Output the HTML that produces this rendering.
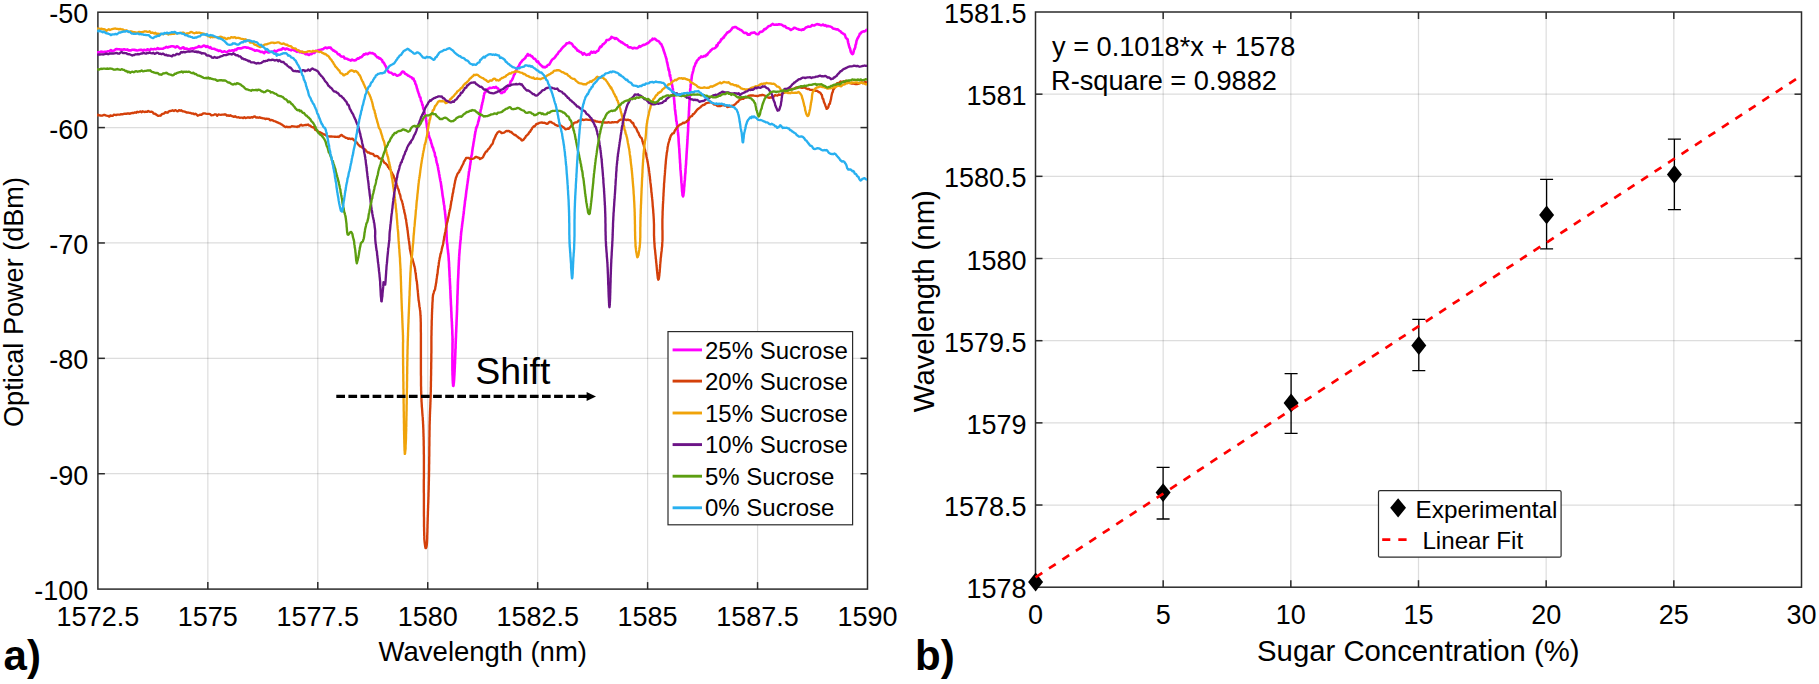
<!DOCTYPE html>
<html><head><meta charset="utf-8"><title>Figure</title>
<style>html,body{margin:0;padding:0;background:#fff}svg{display:block}</style></head>
<body>
<svg width="1819" height="684" viewBox="0 0 1819 684" font-family='"Liberation Sans", Arial, Helvetica, sans-serif' fill="#000">
<rect width="1819" height="684" fill="#fff"/>
<g id="pa">
<g stroke="#262626" stroke-opacity="0.155" stroke-width="1.2">
<line x1="207.84" y1="12.2" x2="207.84" y2="589.1"/>
<line x1="317.79" y1="12.2" x2="317.79" y2="589.1"/>
<line x1="427.73" y1="12.2" x2="427.73" y2="589.1"/>
<line x1="537.67" y1="12.2" x2="537.67" y2="589.1"/>
<line x1="647.61" y1="12.2" x2="647.61" y2="589.1"/>
<line x1="757.56" y1="12.2" x2="757.56" y2="589.1"/>
<line x1="97.9" y1="127.58" x2="867.5" y2="127.58"/>
<line x1="97.9" y1="242.96" x2="867.5" y2="242.96"/>
<line x1="97.9" y1="358.34" x2="867.5" y2="358.34"/>
<line x1="97.9" y1="473.72" x2="867.5" y2="473.72"/>
</g>
<g stroke="#2b2b2b" stroke-width="1.5" fill="none">
<rect x="97.9" y="12.2" width="769.6" height="576.9"/>
<line x1="207.84" y1="589.1" x2="207.84" y2="582.1"/><line x1="207.84" y1="12.2" x2="207.84" y2="19.2"/>
<line x1="317.79" y1="589.1" x2="317.79" y2="582.1"/><line x1="317.79" y1="12.2" x2="317.79" y2="19.2"/>
<line x1="427.73" y1="589.1" x2="427.73" y2="582.1"/><line x1="427.73" y1="12.2" x2="427.73" y2="19.2"/>
<line x1="537.67" y1="589.1" x2="537.67" y2="582.1"/><line x1="537.67" y1="12.2" x2="537.67" y2="19.2"/>
<line x1="647.61" y1="589.1" x2="647.61" y2="582.1"/><line x1="647.61" y1="12.2" x2="647.61" y2="19.2"/>
<line x1="757.56" y1="589.1" x2="757.56" y2="582.1"/><line x1="757.56" y1="12.2" x2="757.56" y2="19.2"/>
<line x1="97.9" y1="127.58" x2="104.9" y2="127.58"/><line x1="867.5" y1="127.58" x2="860.5" y2="127.58"/>
<line x1="97.9" y1="242.96" x2="104.9" y2="242.96"/><line x1="867.5" y1="242.96" x2="860.5" y2="242.96"/>
<line x1="97.9" y1="358.34" x2="104.9" y2="358.34"/><line x1="867.5" y1="358.34" x2="860.5" y2="358.34"/>
<line x1="97.9" y1="473.72" x2="104.9" y2="473.72"/><line x1="867.5" y1="473.72" x2="860.5" y2="473.72"/>
</g>
<clipPath id="ca"><rect x="97.10000000000001" y="12.2" width="769.9" height="576.9"/></clipPath>
<g clip-path="url(#ca)" fill="none" stroke-linejoin="round" stroke-linecap="round">
<path d="M97.4,52.3 98.1,52.6 98.9,52.2 99.9,52.0 100.9,51.6 102.1,51.7 103.4,52.2 104.7,51.8 106.1,51.9 107.5,51.4 108.6,51.3 109.7,51.0 110.9,50.0 112.0,50.9 113.1,50.7 114.3,50.5 115.5,49.3 116.7,49.0 117.9,49.2 119.1,49.3 120.3,49.6 121.6,49.5 122.8,49.7 124.0,49.2 125.2,49.6 126.3,49.7 127.5,49.4 128.6,50.5 129.7,50.2 130.9,50.5 132.0,49.8 133.2,49.7 134.4,49.9 135.6,50.1 136.9,50.5 138.1,50.3 139.3,50.0 140.5,49.7 141.7,49.9 142.9,50.6 144.0,49.8 145.2,50.1 146.3,50.2 147.4,49.3 148.5,49.8 149.6,50.4 151.0,48.9 152.3,49.3 153.4,49.4 154.5,48.9 155.6,49.3 156.6,49.0 157.7,48.1 158.9,48.9 160.2,48.8 161.4,48.7 162.7,48.8 163.9,48.1 165.2,47.7 166.4,46.9 167.7,47.5 168.9,46.9 170.1,46.7 171.3,46.3 172.5,46.3 174.0,46.6 175.4,47.5 176.6,46.3 177.8,46.6 178.9,47.6 180.0,48.5 181.2,48.4 182.5,47.5 183.5,47.3 184.4,48.7 185.4,48.6 186.6,48.5 188.2,49.3 189.2,49.4 190.3,48.8 191.4,48.5 192.6,48.4 193.8,48.6 195.0,47.9 196.3,47.5 197.5,47.3 198.8,46.1 200.0,47.0 201.1,46.9 202.3,46.6 203.7,45.5 205.0,46.0 206.1,46.9 207.2,46.1 208.3,46.9 209.4,47.9 210.5,47.2 211.6,48.7 212.8,48.8 214.0,48.8 215.2,49.3 216.4,49.9 217.5,50.1 218.6,51.0 219.8,50.6 220.9,50.9 222.1,51.9 223.3,51.7 224.6,51.3 225.8,52.0 226.9,52.2 228.0,51.3 229.2,50.6 230.3,50.8 231.4,50.6 232.6,50.3 233.9,50.8 235.1,49.5 236.3,50.0 237.4,48.6 238.6,48.2 239.7,48.4 240.8,48.4 242.0,48.0 243.2,47.5 244.4,47.3 245.6,47.3 246.8,47.7 248.0,47.6 249.1,48.1 250.2,48.6 251.3,48.7 252.5,49.5 253.7,49.8 254.9,50.8 256.1,50.4 257.3,50.4 258.5,50.7 259.6,51.2 260.7,52.0 261.9,51.8 263.0,52.3 264.2,53.2 265.4,51.4 266.7,51.8 267.9,52.4 269.0,52.4 270.1,52.1 271.3,51.6 272.4,51.7 273.5,51.4 274.7,50.7 276.0,51.8 277.2,50.8 278.4,50.0 279.5,49.9 280.7,49.6 281.8,49.4 282.9,48.0 284.1,48.7 285.3,49.4 286.5,48.5 287.7,48.9 288.9,49.6 290.1,49.8 291.2,50.4 292.3,49.3 293.4,50.0 294.6,50.4 295.8,51.2 297.0,51.8 298.3,50.4 299.6,52.2 300.9,51.7 302.2,52.9 303.4,52.4 304.6,53.4 305.7,54.3 306.7,54.0 307.5,54.3 309.0,55.0 310.0,54.3 310.7,53.9 311.5,54.1 312.4,53.5 313.3,52.3 314.4,53.0 315.6,50.9 317.0,51.1 318.1,50.3 319.3,50.0 320.5,49.9 321.8,49.4 323.2,49.2 324.5,47.9 325.8,47.5 327.0,48.3 328.2,47.6 329.3,47.5 330.6,47.6 331.7,49.2 332.5,49.7 333.3,50.7 334.2,50.5 335.1,51.6 336.3,51.9 337.3,53.3 338.3,54.5 339.3,54.2 340.4,55.9 341.5,56.5 342.5,56.7 343.6,56.5 344.7,58.5 345.8,58.5 346.8,58.7 348.3,59.5 349.6,59.9 350.9,60.6 352.1,59.5 353.2,60.3 354.4,60.4 355.6,60.2 356.7,59.2 357.8,58.4 358.7,58.7 359.6,57.8 360.5,57.2 361.5,57.2 362.6,55.9 363.7,54.4 364.8,54.6 366.0,53.6 367.1,54.2 368.3,53.7 369.4,52.9 370.4,52.9 371.4,53.2 372.7,53.1 373.7,54.0 374.6,54.1 375.5,55.4 376.7,56.7 377.5,57.5 378.4,57.3 379.3,58.6 380.2,58.3 381.1,59.4 382.0,60.0 382.8,62.3 383.7,62.5 384.4,63.9 384.9,64.9 385.5,66.0 386.0,66.8 386.4,68.2 387.0,69.9 387.5,70.2 388.2,71.2 388.9,72.2 389.9,72.5 391.0,72.7 392.2,73.5 393.3,74.7 394.5,74.0 395.6,74.6 396.7,75.6 397.7,75.7 399.1,75.0 400.1,74.6 401.0,73.4 402.0,72.0 403.0,71.5 404.1,72.2 405.1,73.7 406.1,74.1 407.2,74.8 408.2,75.7 409.4,76.1 410.5,77.1 411.5,77.3 412.5,78.6 413.5,78.6 414.0,80.5 414.5,81.0 414.9,81.3 415.3,83.4 415.6,84.2 416.0,84.5 416.5,86.3 417.0,88.5 417.4,89.2 417.7,90.7 418.1,91.8 418.5,92.9 418.9,93.9 419.3,95.4 419.6,96.4 420.0,97.4 420.4,97.4 420.8,99.8 421.2,101.3 421.6,101.8 421.9,102.8 422.3,105.1 422.7,104.9 423.0,106.9 423.4,109.1 423.7,109.0 424.0,110.6 424.3,112.4 424.5,112.7 424.8,114.0 425.1,115.3 425.3,115.6 425.6,117.0 425.8,118.4 426.0,120.0 426.2,120.9 426.4,121.9 426.5,122.7 426.7,124.0 426.8,125.7 426.9,126.5 427.1,127.2 427.3,128.3 427.5,131.1 427.8,131.8 428.1,132.7 428.4,132.2 428.7,134.5 429.0,135.7 429.3,137.3 429.6,137.9 430.0,138.7 430.3,140.1 430.7,140.2 431.1,142.6 431.4,143.6 431.8,144.2 432.1,146.1 432.5,147.5 432.8,147.2 433.2,148.3 433.5,149.9 433.9,151.0 434.3,152.0 434.7,152.9 435.0,155.7 435.4,156.9 435.7,156.9 436.0,157.8 436.2,160.2 436.5,161.2 436.7,162.6 437.0,163.3 437.2,163.6 437.4,165.2 437.7,165.3 437.9,166.9 438.2,168.5 438.4,170.0 438.6,170.7 438.9,172.2 439.1,173.7 439.4,175.0 439.6,176.4 439.8,177.5 440.0,178.5 440.3,180.2 440.5,181.1 440.7,181.9 440.9,183.1 441.1,184.6 441.2,185.8 441.4,187.1 441.6,188.2 441.8,189.4 442.0,190.5 442.1,191.1 442.3,193.0 442.5,194.6 442.6,195.6 442.8,196.4 443.0,197.9 443.2,198.5 443.3,199.3 443.5,201.4 443.7,202.3 443.9,204.2 444.0,204.7 444.2,205.1 444.4,206.9 444.5,209.3 444.7,209.8 444.8,210.3 445.0,211.7 445.1,213.4 445.2,214.6 445.4,215.6 445.5,217.3 445.6,218.1 445.7,218.9 445.9,220.3 446.0,222.0 446.1,223.1 446.2,224.4 446.2,224.7 446.3,226.1 446.4,227.8 446.4,228.5 446.4,230.2 446.5,231.2 446.5,232.4 446.5,233.1 446.6,235.3 446.6,236.0 446.6,236.5 446.7,237.7 446.8,240.0 446.8,240.0 446.9,241.7 447.0,243.0 447.2,243.7 447.3,244.1 447.4,245.7 447.5,246.9 447.6,248.3 447.7,249.2 447.9,249.9 448.0,251.3 448.1,252.4 448.2,253.5 448.4,254.7 448.5,255.9 448.6,257.8 448.7,258.2 448.7,259.4 448.8,260.8 448.9,261.3 449.0,262.8 449.0,263.3 449.1,264.9 449.1,266.7 449.2,268.0 449.3,268.9 449.3,270.0 449.4,270.7 449.5,273.3 449.5,274.1 449.6,275.5 449.6,275.9 449.7,277.4 449.8,277.9 449.8,280.2 449.9,281.7 449.9,281.8 450.0,283.7 450.1,285.4 450.1,285.6 450.2,286.7 450.2,288.2 450.3,289.7 450.4,290.5 450.4,292.3 450.5,293.7 450.5,295.0 450.6,296.2 450.6,297.7 450.7,298.8 450.7,298.8 450.8,300.2 450.8,301.1 450.9,302.2 450.9,303.9 451.0,305.2 451.1,306.6 451.1,307.0 451.2,308.2 451.2,310.1 451.3,311.4 451.4,312.6 451.4,314.0 451.5,315.0 451.5,316.9 451.6,318.1 451.7,319.2 451.7,320.2 451.8,321.6 451.9,321.7 451.9,323.6 452.0,325.3 452.0,325.9 452.1,327.8 452.2,329.0 452.2,329.5 452.3,331.0 452.3,332.2 452.3,333.6 452.4,334.8 452.4,335.5 452.5,336.1 452.5,338.2 452.5,339.7 452.6,341.4 452.6,342.3 452.5,342.8 452.5,343.4 452.5,344.7 452.5,345.6 452.5,346.6 452.5,348.3 452.5,349.8 452.5,351.1 452.5,352.4 452.4,353.1 452.4,355.4 452.4,355.6 452.4,357.3 452.4,358.1 452.4,359.7 452.4,359.4 452.4,361.2 452.4,362.9 452.4,364.4 452.4,366.4 452.4,366.8 452.4,368.3 452.4,369.3 452.4,370.4 452.5,371.4 452.5,372.7 452.5,374.6 452.6,375.7 452.7,378.3 452.7,379.0 452.8,381.0 452.9,383.3 453.0,383.6 453.1,384.6 453.1,385.8 453.2,385.9 453.3,385.6 453.4,385.9 453.5,385.6 453.6,384.9 453.7,383.2 453.8,383.1 453.9,381.8 454.1,379.6 454.2,377.9 454.3,375.9 454.4,375.0 454.5,372.5 454.6,371.3 454.6,369.8 454.7,368.5 454.7,367.9 454.8,367.1 454.8,365.4 454.9,363.8 455.0,363.2 455.0,361.7 455.0,360.6 455.1,359.9 455.1,358.6 455.2,356.6 455.2,356.6 455.3,354.6 455.3,353.6 455.4,351.9 455.4,351.0 455.4,349.2 455.5,349.1 455.6,347.9 455.6,345.6 455.6,344.3 455.7,343.2 455.7,343.5 455.7,342.0 455.8,341.0 455.8,339.6 455.9,338.2 456.0,336.0 456.0,335.4 456.0,333.8 456.1,333.3 456.1,332.5 456.2,331.5 456.2,330.1 456.3,328.6 456.3,327.8 456.4,326.4 456.4,326.1 456.5,324.6 456.5,323.0 456.6,321.5 456.6,320.1 456.7,318.7 456.7,317.7 456.8,316.7 456.8,315.6 456.9,314.3 456.9,313.8 457.0,311.3 457.0,310.2 457.1,310.2 457.1,307.0 457.1,306.1 457.2,305.2 457.2,304.1 457.3,303.0 457.3,301.6 457.3,300.6 457.4,299.4 457.4,298.5 457.4,296.2 457.5,295.4 457.5,294.6 457.6,293.1 457.6,291.9 457.6,291.4 457.7,289.8 457.7,289.1 457.8,288.0 457.8,286.6 457.8,285.4 457.9,283.9 457.9,281.9 458.0,281.2 458.0,280.2 458.1,278.5 458.2,277.4 458.2,276.6 458.3,274.6 458.3,274.0 458.4,273.4 458.4,271.2 458.5,270.2 458.5,268.9 458.6,268.4 458.6,266.8 458.7,265.8 458.8,264.0 458.8,263.0 458.9,261.9 458.9,260.0 459.0,260.3 459.1,259.1 459.1,256.8 459.2,256.2 459.3,254.5 459.4,253.4 459.5,252.1 459.6,250.0 459.7,249.3 459.8,249.0 459.9,247.1 460.0,245.7 460.1,244.5 460.2,243.5 460.2,243.1 460.3,242.8 460.4,241.4 460.5,240.2 460.7,239.6 460.8,237.4 460.8,236.2 460.9,235.8 461.0,235.1 461.1,233.5 461.2,232.4 461.3,231.8 461.5,230.3 461.8,227.7 461.9,227.2 462.0,226.1 462.1,225.5 462.2,224.3 462.4,223.3 462.5,222.0 462.6,221.5 462.8,220.7 462.9,218.7 463.1,218.0 463.2,216.1 463.4,215.2 463.5,214.3 463.7,213.5 463.8,211.4 464.0,210.2 464.1,209.0 464.3,207.0 464.5,206.3 464.6,204.8 464.8,204.0 464.9,202.2 465.1,200.4 465.3,200.0 465.4,199.0 465.6,197.3 465.8,196.6 465.9,195.0 466.1,193.5 466.2,192.7 466.4,190.7 466.6,189.8 466.7,188.9 466.9,188.2 467.0,186.6 467.2,185.6 467.3,184.1 467.5,183.3 467.6,182.8 467.8,180.7 467.9,180.8 468.1,178.5 468.3,177.4 468.4,176.3 468.6,175.5 468.8,173.4 469.0,171.5 469.2,171.3 469.4,170.2 469.5,168.9 469.7,168.6 469.9,166.4 470.1,165.1 470.3,164.3 470.4,162.9 470.6,162.3 470.8,160.0 471.0,159.0 471.2,156.5 471.3,157.1 471.5,155.7 471.7,155.1 471.9,154.5 472.1,152.4 472.3,151.0 472.5,149.5 472.7,148.0 472.9,146.8 473.1,146.1 473.3,144.6 473.5,143.3 473.7,141.9 473.9,141.2 474.1,139.8 474.3,138.3 474.5,137.5 474.7,136.0 474.9,134.4 475.0,134.5 475.2,133.1 475.4,131.5 475.6,131.3 475.8,130.2 476.2,127.5 476.6,127.6 476.9,126.4 477.2,126.0 477.5,124.9 477.9,123.6 478.4,121.1 478.6,121.2 478.9,119.9 479.1,118.6 479.3,117.8 479.6,116.5 479.8,115.5 480.1,113.8 480.3,112.6 480.6,110.4 480.8,109.7 481.1,109.0 481.3,108.2 481.6,106.2 481.8,105.0 482.1,104.6 482.3,102.7 482.6,102.0 482.8,101.5 483.2,99.1 483.6,97.9 483.8,95.7 484.1,94.8 484.3,93.6 484.7,92.7 485.1,92.3 485.6,92.1 486.3,90.0 487.3,89.1 488.4,88.9 489.7,87.7 491.0,88.0 492.3,87.8 493.6,87.3 494.8,87.7 496.0,86.9 497.1,88.3 498.0,88.3 498.8,89.7 499.5,90.9 500.3,92.0 501.1,93.1 502.1,92.9 502.9,92.3 503.6,92.1 504.4,91.9 505.2,90.4 506.0,89.5 506.8,88.8 507.6,87.2 508.4,85.2 509.2,85.5 510.0,84.3 510.6,81.4 511.2,81.0 511.8,80.2 512.3,79.4 512.8,78.2 513.4,76.6 513.9,75.1 514.4,74.4 514.9,73.8 515.4,71.8 515.9,70.6 516.5,70.0 517.0,68.2 517.7,67.6 518.4,66.5 519.0,65.8 519.6,64.3 520.2,63.2 520.8,62.5 521.4,61.8 522.0,60.8 522.6,60.2 523.2,59.8 524.2,58.9 525.2,58.1 526.1,56.2 527.0,55.5 527.7,54.0 528.4,55.4 530.0,54.9 530.6,55.6 531.4,56.5 532.2,56.4 533.1,57.9 534.0,58.7 535.0,58.7 536.0,60.4 537.0,61.8 538.0,61.3 539.0,63.3 539.9,64.2 540.9,65.3 541.9,66.1 542.9,67.2 543.9,66.9 544.9,67.4 545.8,66.7 546.7,66.6 547.6,65.3 548.4,64.7 549.2,64.6 550.1,63.1 550.9,61.7 551.8,60.1 552.8,59.0 553.6,58.6 554.4,58.0 555.2,56.9 556.0,55.9 556.8,54.6 557.6,54.2 558.4,52.5 559.2,51.4 560.0,51.1 560.8,49.9 561.6,48.8 562.7,47.5 563.7,46.5 564.6,45.9 565.6,44.9 566.5,43.4 567.5,43.4 568.4,43.0 569.5,42.4 570.4,43.3 571.3,43.4 572.1,44.1 572.9,45.4 573.8,46.7 574.6,46.9 575.5,48.3 576.4,48.7 577.4,50.8 578.5,50.6 579.6,52.0 580.8,52.0 581.9,53.2 583.0,54.6 584.1,53.1 585.2,54.1 586.1,54.9 587.5,54.7 588.5,54.0 589.5,54.6 590.4,53.1 591.4,51.7 592.7,52.6 593.9,51.7 595.2,52.7 596.7,51.4 597.4,51.0 598.1,50.8 598.8,49.5 599.6,47.9 600.3,46.6 601.1,46.9 601.9,45.9 602.8,44.3 603.7,44.0 604.6,43.1 605.6,42.3 606.6,40.1 607.6,40.0 608.6,39.9 609.6,39.2 610.5,38.7 611.5,36.8 612.5,37.5 613.8,37.7 614.9,38.9 616.0,38.1 617.0,38.8 618.2,39.8 619.5,41.1 620.4,41.2 621.4,42.5 622.3,42.4 623.3,43.5 624.3,43.9 625.3,44.9 626.3,45.3 627.2,45.4 628.2,47.0 629.5,47.4 630.7,47.3 631.8,47.9 632.9,48.5 634.0,47.7 635.1,48.0 636.1,48.3 637.3,48.1 638.4,47.4 639.4,46.0 640.3,46.8 641.3,46.1 642.3,45.5 643.4,44.9 644.4,44.9 645.4,44.4 646.4,43.8 647.5,43.3 648.6,42.6 649.6,41.6 650.6,40.4 651.6,40.2 652.6,38.7 653.7,39.2 654.8,38.6 655.8,39.5 656.9,40.6 657.9,40.9 658.9,41.4 659.8,42.8 660.5,43.7 661.1,43.7 661.6,44.9 662.1,46.3 662.6,47.1 663.1,48.5 663.6,50.3 664.2,52.0 664.5,53.0 664.8,53.9 665.1,54.5 665.4,55.6 665.7,56.6 666.0,57.6 666.3,58.8 666.5,59.3 666.8,61.0 667.1,62.5 667.4,63.4 667.7,65.0 668.0,66.6 668.3,67.7 668.6,70.1 668.9,69.2 669.1,71.2 669.4,71.7 669.6,73.9 669.9,76.0 670.2,74.9 670.4,76.9 670.7,78.3 670.9,79.1 671.2,80.5 671.4,80.5 671.6,82.8 671.9,84.0 672.1,85.0 672.3,86.0 672.6,87.8 672.8,88.6 673.0,90.2 673.2,91.1 673.3,91.5 673.5,93.6 673.6,95.0 673.8,96.5 673.9,97.0 674.0,98.5 674.2,100.1 674.3,101.1 674.4,102.8 674.5,104.4 674.6,104.4 674.7,104.9 674.8,107.3 674.9,108.9 675.0,109.8 675.2,110.9 675.3,111.3 675.4,112.3 675.5,114.0 675.6,114.4 675.8,115.4 676.0,117.1 676.2,120.0 676.3,121.2 676.5,121.1 676.7,122.0 676.8,123.4 677.0,124.0 677.1,125.9 677.3,126.4 677.4,127.0 677.6,129.2 677.7,129.8 677.8,131.2 678.0,132.3 678.1,133.2 678.1,134.5 678.2,135.1 678.3,135.6 678.4,136.4 678.5,137.8 678.6,139.2 678.6,140.7 678.7,142.0 678.8,143.5 678.9,144.7 679.0,145.7 679.1,147.2 679.2,147.6 679.3,149.5 679.4,151.1 679.4,152.3 679.5,153.2 679.6,154.3 679.7,156.0 679.7,156.8 679.8,158.3 679.9,159.5 680.0,160.5 680.0,162.2 680.1,162.7 680.2,163.9 680.3,165.0 680.3,166.2 680.4,168.4 680.5,169.9 680.6,170.4 680.7,171.7 680.8,173.2 680.9,174.3 681.0,176.0 681.1,176.4 681.2,178.1 681.3,180.3 681.4,182.4 681.6,183.6 681.7,184.6 681.8,186.4 681.9,187.8 682.0,189.1 682.1,191.4 682.2,191.8 682.4,193.1 682.5,195.0 682.6,195.4 682.7,195.6 682.9,195.4 683.0,195.9 683.1,196.4 683.2,195.7 683.4,195.4 683.5,194.2 683.6,193.4 683.8,192.0 683.9,191.0 684.0,190.1 684.1,187.5 684.3,186.5 684.4,185.1 684.5,183.2 684.6,181.6 684.8,180.5 684.9,179.4 685.0,177.3 685.1,175.6 685.3,173.2 685.4,173.4 685.5,171.6 685.5,170.3 685.6,168.5 685.7,167.7 685.8,166.1 685.9,165.3 686.0,164.3 686.1,162.9 686.1,161.8 686.2,160.0 686.3,159.8 686.4,157.8 686.5,155.9 686.5,155.3 686.6,154.0 686.7,152.7 686.7,151.8 686.8,151.0 686.9,149.2 686.9,148.5 687.0,148.2 687.1,146.4 687.2,144.6 687.3,143.3 687.4,141.9 687.4,140.8 687.5,140.0 687.6,138.6 687.6,136.4 687.7,136.3 687.8,135.0 687.8,134.6 687.9,133.1 687.9,132.3 688.0,132.1 688.1,129.7 688.1,128.2 688.2,126.8 688.2,125.3 688.3,124.5 688.3,124.5 688.4,123.3 688.4,121.7 688.4,120.8 688.5,120.6 688.5,118.9 688.6,117.7 688.7,116.5 688.8,115.4 688.8,114.7 688.9,113.2 688.9,111.6 689.0,110.4 689.1,109.9 689.1,108.6 689.2,106.6 689.3,105.5 689.3,104.2 689.4,102.8 689.5,101.2 689.6,99.4 689.6,98.4 689.7,96.7 689.8,96.6 689.9,95.2 690.0,93.1 690.0,92.9 690.1,91.6 690.2,89.2 690.3,89.5 690.4,88.2 690.5,87.7 690.7,84.5 690.9,83.5 691.1,82.1 691.3,80.6 691.4,79.4 691.6,78.6 691.8,76.4 692.0,75.3 692.2,74.2 692.4,73.6 692.7,72.6 692.9,72.0 693.2,71.0 693.5,69.5 693.9,67.8 694.2,66.7 694.6,66.2 695.0,65.2 695.4,63.9 695.8,62.8 696.2,62.8 696.7,61.1 697.5,60.2 698.4,59.4 699.2,58.0 700.1,57.8 701.1,56.4 702.1,56.9 703.1,56.7 704.1,55.9 705.4,56.2 706.3,54.9 707.1,55.0 708.1,53.3 709.0,52.4 709.9,51.6 710.8,50.4 711.7,49.7 712.5,48.7 713.8,48.5 714.6,48.3 716.0,47.3 716.5,45.3 717.1,46.1 717.7,44.9 718.3,43.1 719.0,42.8 719.7,42.0 720.4,41.3 721.2,39.3 722.1,39.2 723.0,37.6 723.8,37.7 724.6,35.8 725.5,35.1 726.4,33.7 727.4,32.4 728.3,32.4 729.2,31.5 730.1,31.0 731.0,30.0 731.9,28.7 732.7,27.5 733.5,27.5 734.9,27.1 736.1,27.1 737.2,28.1 738.1,28.7 739.1,29.0 740.0,29.7 741.3,30.2 742.3,31.2 743.3,32.2 744.4,33.0 745.5,32.9 746.6,33.0 747.6,34.6 748.8,34.4 749.9,34.6 751.0,33.0 752.0,32.9 753.2,32.8 754.2,32.3 755.2,33.1 756.3,34.0 757.5,34.2 758.5,34.2 759.4,32.7 760.4,31.7 761.3,31.9 762.3,31.5 763.4,30.5 764.4,29.0 765.4,29.1 766.3,28.4 767.2,27.6 768.2,26.4 769.2,26.1 770.4,25.8 771.5,24.8 772.6,23.9 773.8,24.6 775.1,24.7 776.3,24.5 777.5,24.8 778.7,24.2 780.0,24.4 781.2,24.5 782.4,25.2 783.7,26.2 785.0,26.0 786.1,27.6 787.2,28.1 788.2,28.3 789.6,28.9 790.7,30.0 791.9,29.4 793.0,28.9 794.1,27.7 795.5,28.0 796.6,28.8 797.7,29.0 798.9,29.6 800.1,29.8 801.4,30.1 802.6,29.2 803.7,29.7 804.7,28.6 805.9,27.5 807.2,27.0 808.4,26.5 809.6,26.8 810.8,26.5 812.0,25.0 813.2,25.5 814.5,25.4 815.8,24.6 817.0,24.1 818.2,24.4 819.4,24.6 820.6,25.2 821.8,25.1 823.1,24.5 824.3,25.6 825.5,25.1 826.7,26.4 827.9,25.9 829.1,26.3 830.4,26.6 831.7,27.1 832.9,28.4 834.1,28.7 835.3,29.1 836.5,29.5 837.6,29.2 838.6,30.2 839.6,30.8 840.5,31.3 841.4,32.6 842.3,33.0 843.2,33.7 844.0,34.2 844.7,34.5 845.4,36.4 846.0,37.9 846.7,38.6 847.1,38.9 847.6,39.1 847.9,41.4 848.3,43.1 848.6,44.0 848.9,45.4 849.3,46.8 849.6,47.8 850.1,48.6 850.5,50.7 850.9,52.2 851.3,52.5 851.7,53.7 852.1,53.8 852.6,54.1 853.2,53.5 853.7,51.4 854.2,49.3 854.7,49.0 855.0,47.8 855.3,47.2 855.5,44.9 855.7,44.7 856.0,44.1 856.2,43.1 856.5,41.0 856.9,40.0 857.5,38.5 858.0,37.7 858.6,36.7 859.3,35.2 859.9,33.5 860.6,33.5 861.5,32.1 862.4,31.9 863.3,31.4 864.2,31.5 865.5,30.9 866.7,29.8 867.6,29.8" stroke="#ff00ff" stroke-width="2.6"/>
<path d="M97.4,115.4 98.1,114.7 99.0,115.1 99.9,115.5 101.1,115.7 102.3,115.6 103.6,115.0 104.9,115.0 106.3,115.6 107.8,115.8 109.3,116.6 110.4,115.4 111.6,115.9 112.7,115.8 113.9,114.7 115.1,114.8 116.2,115.0 117.4,114.7 118.6,114.6 119.8,114.7 121.1,114.1 122.4,114.3 123.7,113.8 125.1,113.6 126.3,113.9 127.5,113.4 128.8,113.5 130.0,113.8 131.3,113.1 132.5,112.8 133.7,113.0 134.9,112.4 136.1,112.7 137.3,111.8 138.5,112.2 139.6,111.7 140.6,111.5 141.7,112.3 142.6,111.3 144.5,112.0 145.9,111.6 147.2,111.8 148.2,110.9 149.3,111.6 150.3,111.9 151.4,111.6 152.6,112.0 153.6,113.6 154.6,113.6 155.5,114.1 156.4,114.6 157.4,115.5 158.4,115.8 159.6,115.6 160.6,115.7 161.6,114.4 162.6,113.9 163.9,113.6 165.4,112.2 166.5,112.5 167.7,112.7 168.8,111.3 170.1,111.0 171.3,110.8 172.6,110.3 173.9,111.0 175.2,110.1 176.5,110.8 177.7,111.3 179.0,110.2 180.3,110.7 181.4,110.3 182.6,111.4 183.6,111.3 184.7,111.6 185.9,112.1 187.0,112.6 188.2,112.5 189.5,112.9 190.7,113.0 192.0,113.6 193.2,113.5 194.3,114.2 195.5,113.8 196.6,114.5 197.7,115.7 198.8,115.2 200.2,114.6 201.4,114.8 202.5,114.0 203.5,113.3 204.6,113.3 205.8,113.7 207.0,113.8 208.0,113.9 209.1,113.9 210.1,114.1 211.4,115.3 212.8,115.2 213.9,114.8 215.0,114.3 216.1,114.4 217.2,115.8 218.4,114.5 219.6,114.7 220.8,114.8 222.1,114.6 223.3,114.6 224.6,114.3 225.8,114.5 226.9,115.7 228.0,115.2 229.2,115.9 230.3,115.2 231.4,115.9 232.6,116.3 233.9,116.9 235.1,116.3 236.3,117.1 237.4,117.4 238.6,117.2 239.7,117.8 240.8,117.6 242.0,117.7 243.2,118.1 244.4,117.2 245.6,118.0 246.8,117.7 248.0,117.3 249.1,117.5 250.2,117.8 251.3,117.2 252.5,117.6 253.7,116.7 254.9,116.5 256.2,117.6 257.4,117.4 258.6,117.7 259.7,117.2 260.9,117.9 262.0,118.0 263.1,118.4 264.3,118.4 265.4,119.1 266.7,118.7 267.9,118.8 269.0,118.9 270.1,120.3 271.1,120.0 272.1,120.2 273.2,120.6 274.2,121.2 275.6,121.4 276.8,122.2 278.0,122.6 279.1,123.1 280.1,123.5 281.2,124.3 282.4,124.9 283.5,125.8 284.5,126.5 285.4,127.1 286.5,126.6 287.8,127.1 289.1,126.9 290.4,127.1 291.8,126.1 293.1,126.3 294.4,126.5 295.7,126.6 297.0,127.0 298.1,126.3 299.1,126.5 300.0,125.3 301.1,124.7 302.3,125.6 303.4,125.3 304.5,125.1 305.6,124.9 306.8,125.0 308.0,124.5 309.3,125.6 310.3,125.6 311.3,126.7 312.4,127.2 313.4,127.2 314.4,128.2 315.3,129.9 316.2,130.3 317.0,130.7 318.4,131.8 319.2,132.0 320.5,132.4 321.5,133.1 322.6,133.5 323.7,134.5 324.9,134.5 326.2,135.6 327.5,136.1 328.8,136.4 330.1,136.5 331.4,136.4 332.7,136.6 334.0,136.7 335.2,136.7 336.3,136.9 337.7,136.6 338.7,137.0 339.6,136.3 340.5,135.5 341.6,134.9 342.7,135.9 343.7,136.5 344.7,137.1 345.7,137.8 346.8,137.8 348.2,138.9 349.4,138.4 350.6,139.1 352.1,138.6 352.9,138.9 353.7,140.1 354.5,140.5 355.4,141.3 356.2,142.0 357.1,142.8 358.1,144.5 359.1,145.4 360.1,146.5 361.0,146.5 362.0,147.4 363.0,147.9 364.0,149.3 365.0,149.3 366.0,150.7 366.9,151.7 367.9,152.5 369.1,152.4 370.1,153.6 371.2,153.5 372.1,153.9 373.1,154.0 374.0,155.4 374.9,156.1 376.1,155.9 377.2,156.1 378.1,156.7 379.1,158.3 380.2,158.6 381.1,158.6 381.9,158.7 382.7,159.8 383.5,161.4 384.4,162.8 385.4,163.3 386.1,163.9 386.7,164.7 387.3,165.0 388.0,166.9 388.6,167.2 389.3,168.8 389.9,168.9 390.6,169.9 391.2,171.6 391.8,172.4 392.5,174.1 393.0,175.0 393.5,175.6 393.9,177.3 394.4,178.5 394.8,178.6 395.2,181.0 395.6,181.8 396.0,183.0 396.4,183.3 396.8,184.8 397.3,186.3 397.7,188.3 398.1,188.5 398.5,189.8 398.8,190.5 399.2,192.2 399.6,193.7 399.9,194.1 400.3,195.5 400.6,197.2 401.0,198.8 401.3,199.7 401.7,200.5 402.0,201.3 402.3,202.5 402.7,203.9 403.0,205.4 403.3,206.7 403.6,208.5 403.8,209.3 404.1,209.8 404.3,211.9 404.6,212.9 404.8,213.6 405.0,214.4 405.2,215.0 405.4,216.4 405.6,218.3 405.9,219.0 406.1,219.9 406.3,221.7 406.5,223.1 406.7,224.5 406.9,225.8 407.1,227.3 407.3,227.8 407.4,229.6 407.6,230.2 407.8,232.0 407.9,233.1 408.1,234.4 408.2,235.9 408.4,236.7 408.5,238.3 408.7,239.4 408.8,240.2 409.0,241.0 409.1,242.0 409.3,243.6 409.5,245.1 409.7,246.4 409.8,248.7 409.9,249.0 410.1,250.0 410.2,250.4 410.4,251.4 410.6,252.6 410.9,254.1 411.1,254.8 411.4,256.8 411.7,257.1 412.1,258.7 412.4,258.5 412.7,260.2 413.1,261.4 413.4,262.5 413.8,263.9 414.1,265.1 414.4,266.4 414.6,266.7 414.8,268.1 415.0,268.6 415.2,270.8 415.4,272.0 415.6,272.9 415.7,273.8 415.9,275.1 416.1,277.2 416.2,278.5 416.4,279.0 416.5,280.6 416.7,280.8 416.9,281.8 417.0,283.6 417.2,284.7 417.3,286.1 417.4,287.6 417.6,289.9 417.7,289.9 417.8,291.1 417.9,292.4 418.0,293.4 418.1,294.9 418.2,296.5 418.3,296.5 418.4,298.0 418.5,299.0 418.6,300.4 418.8,300.8 418.9,302.0 419.1,303.0 419.3,305.2 419.4,306.2 419.6,307.2 419.7,307.3 419.9,308.9 420.0,309.9 420.2,310.8 420.3,312.2 420.4,314.1 420.5,315.7 420.6,316.5 420.6,317.8 420.7,318.6 420.7,319.9 420.7,321.1 420.8,322.5 420.8,323.5 420.8,324.7 420.8,325.9 420.8,327.0 420.8,329.3 420.8,330.0 420.8,331.1 420.9,333.0 420.9,333.9 420.9,333.8 420.9,335.6 420.9,336.8 420.9,338.7 420.9,339.7 420.9,340.4 420.9,340.3 420.9,341.0 420.9,342.1 420.9,343.1 420.9,343.7 420.9,345.4 420.9,347.3 420.9,350.0 420.9,351.0 420.9,351.7 420.9,352.2 420.9,354.1 420.9,355.3 420.9,355.8 420.9,357.2 420.9,358.1 420.9,359.3 420.9,360.4 420.9,361.1 420.9,362.7 420.9,364.2 420.9,364.7 420.9,366.9 420.9,368.4 420.9,369.6 420.9,370.9 420.9,371.8 420.9,372.6 420.9,373.7 420.9,374.9 421.0,376.6 421.0,377.9 421.0,379.4 421.0,379.7 421.0,382.5 421.0,384.0 421.0,384.5 421.0,385.9 421.1,387.0 421.1,388.2 421.1,389.2 421.1,390.4 421.2,391.3 421.2,392.8 421.2,393.9 421.3,395.5 421.3,396.6 421.4,398.3 421.5,399.7 421.5,401.3 421.6,402.0 421.7,403.7 421.8,405.2 421.8,406.3 421.9,407.1 422.0,408.1 422.1,409.4 422.2,410.9 422.3,412.3 422.3,412.8 422.4,413.7 422.5,415.1 422.6,416.2 422.7,416.9 422.8,418.0 422.8,419.4 422.9,420.8 423.0,421.3 423.0,422.5 423.1,424.3 423.2,425.0 423.2,426.7 423.3,428.1 423.3,429.2 423.4,430.0 423.4,431.5 423.4,432.6 423.5,433.9 423.5,434.6 423.5,436.4 423.6,436.5 423.6,438.0 423.6,439.2 423.7,440.7 423.7,441.3 423.7,442.7 423.7,443.5 423.7,445.1 423.8,446.7 423.8,447.1 423.8,448.6 423.8,449.4 423.8,451.3 423.8,452.9 423.8,453.9 423.9,454.8 423.9,456.5 423.9,458.0 423.9,459.2 423.9,460.2 423.9,460.3 423.9,461.7 423.9,463.7 423.9,464.0 423.9,465.9 423.9,467.4 423.9,468.2 423.9,469.5 423.9,470.1 423.9,470.8 423.9,472.4 423.9,473.5 423.9,474.8 423.9,476.3 423.9,477.2 423.9,478.5 423.8,479.8 423.8,480.9 423.8,482.8 423.8,483.6 423.8,484.7 423.8,485.8 423.8,486.9 423.8,488.9 423.8,489.9 423.8,490.7 423.8,492.1 423.9,493.6 423.9,494.9 423.9,496.7 423.9,497.2 423.9,499.0 423.9,500.2 423.9,501.0 423.9,502.7 423.9,504.0 423.9,505.5 423.9,506.5 423.9,508.1 423.9,508.7 423.9,510.2 423.9,512.2 423.9,513.8 423.9,514.7 423.9,515.8 424.0,517.7 424.0,517.8 424.0,519.5 424.0,521.3 424.0,522.7 424.0,523.3 424.0,524.1 424.0,526.5 424.1,527.4 424.1,528.1 424.1,529.5 424.1,531.0 424.1,530.8 424.2,533.0 424.2,534.1 424.2,534.0 424.2,535.8 424.3,535.9 424.3,537.7 424.3,538.4 424.4,539.8 424.7,542.9 425.1,545.9 425.5,548.1 425.9,548.1 426.3,547.4 426.7,545.8 426.7,545.4 426.8,544.4 426.9,544.2 426.9,543.5 427.0,542.5 427.0,542.1 427.1,540.5 427.1,539.9 427.2,538.2 427.2,537.4 427.2,535.3 427.3,534.7 427.3,533.4 427.4,531.9 427.4,530.5 427.4,529.3 427.5,527.7 427.5,525.8 427.5,524.9 427.6,523.5 427.6,522.1 427.7,520.5 427.7,519.4 427.7,518.4 427.8,516.7 427.8,515.1 427.9,514.5 427.9,513.1 427.9,511.8 428.0,510.7 428.0,508.9 428.1,507.7 428.1,507.1 428.1,505.4 428.2,504.4 428.2,503.5 428.3,502.4 428.3,501.1 428.3,500.5 428.4,499.0 428.4,498.3 428.4,497.3 428.5,496.1 428.5,495.0 428.5,493.2 428.6,491.9 428.6,491.0 428.6,490.2 428.7,489.4 428.7,487.2 428.7,486.4 428.8,484.6 428.8,483.3 428.8,482.0 428.9,480.9 428.9,479.3 428.9,478.0 429.0,476.1 429.0,475.6 429.0,474.6 429.0,473.1 429.0,472.1 429.1,470.5 429.1,469.0 429.1,468.1 429.1,466.8 429.1,466.9 429.1,464.6 429.2,464.0 429.2,462.3 429.2,461.0 429.2,459.9 429.2,458.0 429.2,457.3 429.3,455.9 429.3,453.9 429.3,453.3 429.3,452.1 429.3,450.8 429.3,450.0 429.3,448.0 429.3,447.0 429.4,445.8 429.4,444.0 429.4,443.4 429.4,441.2 429.4,439.9 429.4,439.4 429.4,437.6 429.5,436.7 429.5,435.0 429.5,434.4 429.5,432.8 429.5,432.1 429.5,430.4 429.6,429.9 429.6,428.6 429.6,427.6 429.6,426.5 429.6,425.5 429.7,423.3 429.7,421.1 429.8,420.5 429.8,418.9 429.8,417.7 429.9,416.8 429.9,414.7 430.0,413.9 430.0,412.9 430.0,411.7 430.1,411.2 430.1,410.0 430.2,408.8 430.2,407.7 430.3,407.3 430.3,405.9 430.3,405.3 430.4,404.2 430.4,402.3 430.5,401.3 430.5,400.6 430.5,399.6 430.6,398.5 430.6,397.2 430.7,395.8 430.7,393.8 430.7,392.7 430.8,391.9 430.8,390.3 430.8,389.6 430.8,387.5 430.9,387.0 430.9,385.5 430.9,383.5 430.9,383.3 430.9,381.9 431.0,380.5 431.0,378.7 431.0,377.6 431.0,377.0 431.1,374.9 431.1,372.5 431.1,372.0 431.1,370.7 431.1,369.8 431.2,368.5 431.2,367.0 431.2,365.7 431.2,365.2 431.2,363.1 431.2,363.1 431.3,361.1 431.3,359.6 431.3,359.1 431.3,358.0 431.3,356.3 431.3,355.8 431.3,353.9 431.4,353.1 431.4,353.0 431.4,351.7 431.4,350.3 431.4,350.1 431.4,347.8 431.4,345.6 431.4,343.5 431.4,343.1 431.4,342.8 431.4,342.5 431.4,342.4 431.4,340.9 431.4,339.6 431.4,338.2 431.4,337.7 431.4,335.9 431.5,335.5 431.5,333.0 431.5,332.9 431.5,331.4 431.5,330.5 431.6,329.4 431.6,327.5 431.6,326.5 431.7,325.4 431.7,324.3 431.7,322.5 431.7,321.1 431.8,319.5 431.8,319.9 431.9,317.8 431.9,316.5 431.9,314.9 432.0,314.3 432.0,312.4 432.1,311.7 432.1,310.3 432.2,308.6 432.3,307.6 432.3,305.7 432.4,304.7 432.4,303.5 432.5,302.1 432.6,301.5 432.6,300.5 432.7,300.2 432.7,297.5 432.8,297.5 433.0,295.2 433.2,294.2 433.4,293.8 433.7,292.8 434.0,291.7 434.3,290.7 434.7,290.2 435.1,289.1 435.4,286.7 435.6,286.2 435.8,284.8 435.9,283.8 436.1,283.2 436.3,282.1 436.4,280.9 436.6,279.2 436.8,278.0 437.0,276.3 437.2,275.2 437.4,274.3 437.5,273.6 437.7,272.3 437.8,270.3 438.0,269.1 438.2,267.7 438.4,266.9 438.5,266.3 438.7,264.7 438.9,262.4 439.1,261.4 439.3,260.2 439.4,259.8 439.6,258.6 439.8,257.7 440.1,256.7 440.4,254.6 440.7,253.4 440.9,253.5 441.2,252.1 441.5,250.7 441.8,249.1 442.1,247.9 442.5,246.0 442.7,245.9 442.9,245.0 443.1,244.3 443.3,242.9 443.5,241.5 443.7,240.3 443.9,240.2 444.1,237.8 444.3,237.1 444.5,236.0 444.7,234.9 445.0,233.3 445.2,232.4 445.5,231.2 445.7,229.6 446.0,228.1 446.2,227.0 446.4,225.5 446.7,224.6 446.9,223.4 447.2,222.4 447.4,221.7 447.7,220.6 447.9,218.8 448.2,218.0 448.4,216.7 448.7,215.8 448.9,214.3 449.1,213.2 449.4,211.8 449.6,210.5 449.9,209.9 450.1,208.9 450.4,207.5 450.6,206.1 450.9,204.6 451.1,203.0 451.3,201.2 451.6,200.8 451.8,199.5 452.0,197.9 452.2,196.5 452.4,196.1 452.6,193.9 452.8,193.9 453.0,192.5 453.2,192.1 453.4,189.9 453.7,188.9 453.9,187.7 454.2,186.4 454.4,184.8 454.7,183.4 454.9,182.9 455.1,181.2 455.3,180.2 455.6,179.6 455.8,178.3 456.1,177.3 456.5,176.6 457.0,175.2 457.5,173.8 458.0,173.2 458.5,172.4 459.1,172.3 459.6,170.4 460.2,170.1 460.9,168.3 461.4,167.4 461.9,166.2 462.4,165.3 462.9,164.3 463.4,163.5 464.0,161.4 464.5,161.0 465.0,160.0 465.6,159.1 466.1,157.8 467.5,157.8 468.8,158.0 470.0,158.8 471.4,158.9 472.5,158.9 473.6,158.5 474.6,157.9 475.6,156.9 476.7,157.0 477.9,157.6 478.9,157.6 479.9,159.1 481.1,158.2 481.8,158.2 482.5,157.6 483.1,157.0 483.8,155.4 484.6,153.9 485.4,152.5 486.2,151.4 486.9,151.3 487.6,150.1 488.4,149.0 489.2,148.5 490.0,147.1 490.8,146.0 491.6,144.7 492.1,144.5 492.7,143.5 493.2,141.7 493.7,139.9 494.2,139.2 494.7,138.0 495.2,136.9 495.7,135.9 496.2,134.5 496.7,134.0 497.2,133.3 497.7,132.4 499.1,131.4 500.4,131.8 501.6,133.1 503.0,132.8 504.1,132.7 505.1,131.9 506.1,131.0 507.2,131.2 508.2,130.9 509.3,131.2 510.3,132.0 511.2,131.9 512.3,133.1 513.5,134.1 514.5,135.0 515.6,134.9 516.7,136.2 517.7,136.8 518.8,137.9 519.7,138.4 520.5,138.7 521.6,140.4 522.1,140.5 523.2,139.9 523.8,139.3 524.5,138.3 525.2,137.7 526.0,136.0 526.8,135.5 527.6,134.7 528.5,133.8 529.2,132.3 530.0,131.9 530.9,130.1 531.7,129.2 532.4,127.6 533.1,127.1 533.8,126.3 534.5,126.5 535.3,125.5 536.4,124.0 537.4,123.9 538.4,123.4 539.4,122.8 540.5,122.6 541.9,122.5 543.2,122.8 544.4,122.7 545.8,123.4 546.9,123.8 547.9,123.5 548.9,122.4 550.0,121.8 551.1,122.0 552.1,122.8 553.2,123.3 554.2,123.7 555.2,124.8 556.3,125.2 557.7,125.8 558.9,125.6 560.2,125.2 561.6,126.1 562.6,127.0 563.6,127.3 564.6,128.4 565.6,129.4 566.8,129.0 567.8,128.5 568.8,128.8 569.7,127.6 570.7,126.7 571.8,124.9 572.8,124.9 573.9,123.0 575.1,122.5 576.2,122.4 577.2,122.1 578.4,120.9 579.5,120.4 580.9,120.4 582.1,119.4 583.3,120.0 584.5,119.9 585.8,119.5 587.0,119.7 588.3,119.9 589.6,119.8 590.8,120.0 591.9,120.6 593.0,120.2 594.0,120.7 595.1,120.8 596.2,121.6 597.3,121.5 598.4,121.9 599.7,122.0 601.0,122.0 602.2,122.7 603.4,122.1 604.6,122.6 605.9,122.5 607.2,122.6 608.5,122.2 609.8,122.6 611.1,122.6 612.3,122.1 613.5,122.4 614.7,122.2 616.0,122.1 617.3,122.3 618.5,121.1 619.6,120.2 620.7,119.6 621.8,119.6 623.0,119.4 624.2,119.5 625.4,119.6 626.6,120.1 627.8,119.7 628.9,120.0 630.0,120.1 630.9,121.2 631.7,122.3 632.5,123.2 633.2,123.0 633.8,124.9 634.5,126.5 635.3,127.4 635.9,127.6 636.5,129.0 637.1,130.6 637.6,131.7 638.2,132.4 638.7,133.4 639.2,135.1 639.6,135.3 640.3,137.2 640.7,137.2 641.1,137.7 641.6,138.0 642.3,140.2 642.5,141.5 642.8,141.7 643.1,143.8 643.3,143.7 643.6,144.6 643.9,146.1 644.2,147.4 644.5,148.7 644.9,149.5 645.2,150.7 645.5,152.0 645.8,153.1 646.1,153.7 646.4,156.2 646.7,157.5 647.0,158.8 647.3,159.9 647.5,161.6 647.8,162.7 648.0,163.9 648.2,165.4 648.3,165.6 648.5,167.3 648.7,168.0 648.9,169.4 649.0,171.2 649.2,171.5 649.3,172.9 649.5,173.9 649.6,175.6 649.8,176.2 649.9,177.0 650.0,179.0 650.2,180.0 650.3,181.2 650.5,183.0 650.6,183.6 650.8,185.0 650.9,186.6 651.1,188.0 651.2,188.9 651.3,190.7 651.4,192.4 651.6,192.7 651.7,194.7 651.8,194.5 651.9,196.8 652.1,197.6 652.2,198.9 652.3,199.9 652.4,201.0 652.5,202.0 652.6,203.5 652.7,205.3 652.8,206.6 652.9,207.2 653.0,208.3 653.1,209.4 653.2,210.3 653.3,212.6 653.4,213.5 653.5,214.4 653.5,215.3 653.6,216.2 653.7,218.1 653.8,219.5 653.8,220.3 653.9,222.2 653.9,222.8 654.0,224.6 654.0,225.3 654.0,226.6 654.0,228.1 654.0,229.2 654.0,230.5 654.0,230.9 654.0,232.8 654.0,233.9 654.0,234.5 654.0,235.7 654.1,236.3 654.1,237.6 654.2,238.3 654.2,240.0 654.3,241.4 654.4,243.2 654.5,244.4 654.6,245.5 654.6,246.3 654.7,247.4 654.8,248.5 655.0,249.9 655.1,250.2 655.2,252.2 655.3,252.6 655.4,254.1 655.6,255.5 655.7,256.5 655.8,258.6 656.0,259.3 656.1,261.2 656.2,262.5 656.4,263.4 656.5,265.2 656.7,267.1 656.8,268.2 656.9,269.8 657.1,271.1 657.2,272.8 657.4,274.0 657.5,275.4 657.7,276.9 657.8,278.1 658.0,278.5 658.1,279.1 658.3,279.7 658.4,279.4 658.6,278.9 658.7,279.3 658.9,278.1 659.0,277.8 659.1,276.3 659.3,276.0 659.4,273.9 659.5,273.0 659.7,271.9 659.8,269.5 659.9,268.7 660.1,266.4 660.2,264.4 660.3,263.7 660.4,262.3 660.6,260.6 660.7,258.4 660.8,257.8 661.0,256.6 661.1,255.4 661.2,254.2 661.4,252.5 661.5,251.7 661.6,251.5 661.7,250.4 661.8,248.6 662.0,247.3 662.1,246.5 662.2,245.6 662.2,244.3 662.3,242.3 662.4,241.4 662.5,240.1 662.5,239.4 662.5,238.2 662.5,236.9 662.5,236.1 662.5,234.5 662.5,234.1 662.5,232.4 662.5,231.6 662.5,230.8 662.4,229.1 662.4,228.0 662.4,226.5 662.4,226.0 662.4,224.8 662.4,223.4 662.4,222.4 662.4,220.0 662.4,219.2 662.5,217.7 662.5,216.5 662.5,215.8 662.6,215.1 662.6,213.2 662.6,211.8 662.7,210.7 662.7,209.8 662.8,208.8 662.8,207.2 662.9,206.5 662.9,204.7 663.0,204.0 663.1,202.7 663.1,201.5 663.2,200.9 663.3,198.8 663.3,197.5 663.4,196.5 663.5,195.4 663.5,193.4 663.6,192.6 663.7,191.0 663.7,190.2 663.8,189.3 663.9,187.6 664.0,186.3 664.0,185.1 664.1,182.8 664.2,182.8 664.3,181.5 664.4,180.0 664.5,178.4 664.6,176.9 664.7,175.7 664.8,174.9 664.9,173.3 665.0,172.4 665.1,169.8 665.2,169.2 665.3,168.3 665.4,167.0 665.5,165.2 665.6,164.3 665.7,163.9 665.8,161.9 665.9,160.8 666.0,159.6 666.1,158.7 666.2,158.1 666.3,157.1 666.5,155.1 666.6,155.2 666.7,153.6 666.8,152.6 667.1,151.6 667.4,149.4 667.6,147.3 667.9,146.0 668.1,144.7 668.4,143.4 668.7,142.5 668.9,141.9 669.2,140.8 669.5,139.2 669.8,139.7 670.1,137.7 670.4,137.0 671.0,135.3 671.7,134.6 672.3,133.7 673.0,133.4 673.9,133.1 674.5,131.5 675.2,129.9 675.9,129.3 676.6,127.9 677.4,126.9 678.2,126.2 679.1,125.4 680.1,124.5 681.1,124.3 682.1,123.6 683.1,122.7 684.2,123.1 685.2,122.3 686.1,122.2 687.1,120.8 688.0,120.4 688.8,119.6 689.5,117.6 690.4,116.9 691.4,116.0 692.1,116.1 692.9,114.2 693.6,114.1 694.4,113.4 695.2,112.3 696.0,111.4 696.8,110.1 697.6,109.3 698.4,108.7 699.5,107.9 700.5,107.2 701.5,106.2 702.5,105.4 703.5,104.9 704.5,104.8 705.4,103.6 706.6,103.1 707.6,102.9 708.5,102.6 709.5,102.6 710.7,101.8 711.8,102.8 713.0,103.5 714.2,104.6 715.4,104.4 716.6,105.4 717.7,106.1 719.2,106.2 720.4,106.1 721.5,105.7 723.0,104.8 724.1,105.5 725.2,105.6 726.4,105.9 727.5,107.1 728.8,106.7 730.0,106.5 731.1,106.3 732.2,105.6 733.3,105.6 734.3,104.8 735.3,104.3 736.2,103.3 737.0,102.3 738.2,101.7 738.9,100.4 740.0,99.6 741.0,99.2 742.1,98.8 743.3,98.9 744.6,97.9 745.8,97.7 747.1,97.1 748.2,96.1 749.3,95.6 750.5,95.5 751.7,95.5 752.9,95.5 754.1,95.7 755.2,95.8 756.3,95.8 757.5,96.2 758.8,95.7 759.9,95.2 761.0,95.3 762.2,94.8 763.4,95.1 764.6,95.5 765.7,96.2 766.9,97.1 768.0,97.4 769.2,97.8 770.4,97.3 771.6,97.5 772.7,96.7 773.9,96.6 775.1,95.1 776.3,95.4 777.4,95.6 778.6,94.5 779.7,94.8 780.9,94.6 781.9,94.2 782.9,93.0 783.8,92.9 784.8,92.3 785.7,91.2 786.8,91.2 788.0,90.4 789.1,90.0 790.2,89.4 791.4,89.4 792.6,88.9 793.8,88.8 795.0,88.3 796.1,87.5 797.2,87.4 798.5,87.7 799.7,87.2 800.8,87.6 801.9,87.8 803.1,87.8 804.3,87.2 805.5,88.2 806.7,88.7 807.8,89.0 808.9,88.9 810.1,89.9 811.4,89.8 812.6,89.9 813.7,90.1 814.9,90.8 816.0,90.6 817.3,90.8 818.4,92.0 819.4,92.2 820.4,92.9 820.9,93.8 821.4,94.5 821.8,94.7 822.2,96.7 822.5,98.1 822.9,98.9 823.3,99.1 823.8,101.5 824.3,102.9 824.7,103.5 825.1,104.7 825.5,105.9 826.1,107.2 826.6,108.8 827.2,108.6 827.7,108.2 828.3,107.1 828.8,105.2 829.3,103.8 829.9,103.8 830.2,101.9 830.5,101.1 830.7,100.0 831.0,99.1 831.2,97.6 831.5,96.0 831.7,95.0 832.1,93.2 832.4,92.5 832.8,91.9 833.2,89.7 833.6,89.4 834.0,88.8 834.5,88.1 835.0,86.3 835.8,85.2 836.6,83.7 837.5,83.1 838.4,83.0 839.4,83.0 840.5,81.4 841.5,82.0 842.5,81.7 843.8,81.3 844.8,82.3 845.9,80.8 847.1,81.6 848.3,82.1 849.6,83.0 850.8,83.2 852.0,83.7 853.3,83.3 854.5,83.8 855.7,84.1 856.9,84.0 858.2,83.8 859.4,83.3 860.6,82.8 861.6,82.2 862.8,83.2 864.2,82.4 865.6,81.9 866.7,82.8 867.6,82.9" stroke="#d4400a" stroke-width="2.35"/>
<path d="M97.4,28.5 98.1,29.2 99.0,28.7 100.1,28.8 101.3,28.7 102.6,29.2 103.9,29.2 105.2,29.6 106.4,30.8 107.5,30.0 108.8,29.3 110.0,30.0 111.0,29.5 112.0,29.1 113.1,28.8 114.2,28.6 115.4,28.5 116.6,28.9 117.8,28.9 118.9,29.3 120.1,28.9 121.3,29.3 122.5,29.3 123.8,30.2 125.1,30.5 126.3,30.3 127.4,30.9 128.6,32.0 129.7,31.9 130.9,31.2 132.0,31.7 133.2,32.2 134.4,32.2 135.6,32.4 136.8,32.8 138.0,32.5 139.2,31.9 140.3,32.4 141.4,32.1 142.6,32.0 143.7,31.7 144.9,31.3 146.1,31.4 147.4,31.8 148.6,31.8 149.7,31.3 150.8,32.9 152.0,32.5 153.1,32.8 154.2,33.5 155.4,32.7 156.7,34.1 157.9,33.6 159.1,34.1 160.2,33.8 161.4,34.1 162.5,34.1 163.6,34.1 164.8,33.4 166.0,33.4 167.2,33.9 168.4,34.5 169.6,33.8 170.8,34.0 171.9,33.8 173.0,33.7 174.1,33.8 175.3,32.8 176.5,33.3 177.7,33.1 179.0,33.0 180.2,32.8 181.4,32.8 182.6,32.7 183.8,32.7 185.0,34.0 186.1,33.9 187.2,33.3 188.2,33.5 189.7,32.8 190.9,31.9 192.0,32.1 193.0,32.8 194.1,33.3 195.3,32.9 196.4,32.5 197.5,32.8 198.5,32.6 199.6,32.6 200.8,33.2 202.3,33.5 203.4,33.7 204.5,34.0 205.7,34.4 206.9,35.3 208.2,36.3 209.4,36.2 210.6,37.4 211.7,36.5 212.8,37.2 214.2,36.9 215.5,37.2 216.6,37.3 217.6,37.3 218.6,37.4 219.8,36.9 221.0,36.7 222.2,37.3 223.3,37.9 224.5,37.8 225.6,38.6 226.8,39.1 228.0,38.0 229.1,38.3 230.1,38.3 231.2,37.1 232.4,37.5 233.9,37.5 234.9,37.1 236.0,38.1 237.2,37.9 238.3,37.8 239.5,38.2 240.7,38.6 241.9,38.9 243.1,39.2 244.4,39.5 245.5,39.3 246.7,40.0 247.8,40.7 248.9,40.3 250.0,42.5 251.1,42.4 252.1,42.6 253.1,42.9 254.0,44.1 254.9,44.6 256.4,45.2 257.4,45.9 258.3,46.3 259.2,46.7 260.2,47.1 261.2,46.7 262.1,46.6 263.0,45.6 264.1,44.9 265.4,44.4 266.5,44.4 267.7,43.9 268.9,43.5 270.1,43.1 271.4,42.6 272.8,42.7 274.2,43.0 275.4,42.9 276.5,42.7 277.7,42.4 278.9,42.4 280.1,43.3 281.2,43.8 282.4,43.8 283.6,43.4 284.7,44.1 286.0,44.7 287.1,44.7 288.2,45.6 289.2,45.9 290.3,46.2 291.3,46.5 292.4,47.8 293.5,48.2 294.7,48.3 295.8,48.7 296.9,50.0 298.0,50.5 299.1,50.7 300.2,51.8 301.2,51.6 302.3,51.5 303.6,52.5 304.8,52.1 305.9,52.2 306.9,51.9 308.1,51.3 309.3,51.1 310.6,51.3 311.7,51.8 312.9,50.8 314.1,51.4 315.5,51.1 317.0,50.8 318.0,51.5 319.1,52.0 320.1,51.8 321.2,51.7 322.3,53.0 323.4,53.1 324.5,54.1 325.6,53.9 326.6,55.1 327.5,55.6 328.5,56.2 329.4,57.5 330.1,58.6 330.8,59.3 331.5,60.0 332.2,61.5 332.9,61.9 333.7,63.7 334.6,64.9 335.3,66.4 336.1,67.2 336.9,68.0 337.7,69.1 338.5,70.1 339.4,70.6 340.2,72.6 341.0,73.2 341.8,73.7 342.6,73.9 343.3,75.2 344.5,75.2 345.6,74.2 346.5,74.1 347.5,73.7 348.4,72.2 349.4,71.5 350.4,70.7 351.7,70.3 353.0,70.8 354.2,71.7 355.4,71.0 356.5,71.4 357.2,72.3 357.9,72.6 358.5,73.7 359.0,74.7 359.6,75.1 360.2,76.1 360.9,77.8 361.4,79.2 361.9,80.1 362.5,81.6 363.0,81.9 363.5,83.6 364.0,84.5 364.6,85.9 365.1,87.2 365.6,87.9 366.1,89.2 366.8,90.0 367.3,91.4 367.9,91.9 368.4,92.7 368.9,93.8 369.4,94.4 370.0,96.2 370.5,97.0 370.9,98.4 371.2,99.3 371.5,99.8 371.8,101.1 372.1,102.0 372.4,103.2 372.7,104.4 373.0,106.4 373.3,106.9 373.6,108.7 373.9,109.6 374.3,110.1 374.6,110.8 374.9,113.1 375.3,113.5 375.6,115.6 376.0,117.2 376.3,118.3 376.7,119.3 377.0,120.5 377.3,121.9 377.7,123.0 378.0,124.0 378.3,125.1 378.6,126.7 378.8,127.1 379.1,128.2 379.3,128.4 380.2,129.7 380.4,130.2 380.7,131.4 381.0,132.7 381.3,133.5 381.6,134.3 382.0,135.7 382.3,136.6 382.7,138.1 383.1,139.3 383.5,140.7 383.9,141.0 384.3,142.6 384.7,144.9 385.1,146.1 385.4,148.4 385.7,148.7 386.0,149.5 386.3,151.3 386.5,152.1 386.8,153.6 387.1,154.2 387.3,154.9 387.6,156.2 387.9,156.8 388.1,157.9 388.4,159.0 388.6,160.2 388.9,161.7 389.2,162.5 389.4,163.9 389.7,164.9 389.9,166.6 390.2,166.6 390.4,168.7 390.7,170.4 390.9,171.1 391.1,172.9 391.3,173.9 391.5,175.4 391.7,176.5 391.9,177.6 392.1,178.4 392.3,179.2 392.5,180.6 392.6,181.8 392.8,183.2 393.0,184.2 393.2,186.6 393.3,186.3 393.5,188.3 393.7,189.0 393.8,190.2 394.0,191.9 394.2,192.8 394.3,193.5 394.5,195.3 394.6,196.4 394.8,196.9 394.9,198.9 395.1,199.8 395.2,201.2 395.4,203.0 395.6,204.4 395.7,205.5 395.8,207.7 396.0,208.6 396.1,209.4 396.2,211.0 396.4,212.2 396.5,212.7 396.6,214.1 396.7,215.4 396.8,218.0 396.9,218.5 397.0,219.6 397.1,220.7 397.2,222.3 397.3,223.2 397.4,224.9 397.5,225.7 397.6,227.0 397.6,227.3 397.7,228.4 397.9,230.0 398.0,231.5 398.1,232.0 398.2,233.2 398.2,233.8 398.3,234.7 398.3,236.2 398.4,237.0 398.5,238.7 398.6,240.4 398.7,241.3 398.7,242.3 398.8,242.7 398.9,244.2 399.0,244.8 399.0,245.8 399.1,247.5 399.2,249.0 399.3,249.0 399.4,251.0 399.4,252.0 399.5,252.5 399.6,254.1 399.7,255.4 399.8,256.7 399.9,257.7 400.0,258.7 400.0,260.5 400.1,262.2 400.2,263.7 400.3,265.1 400.4,266.8 400.4,267.2 400.5,268.5 400.5,269.9 400.6,271.3 400.6,272.2 400.6,273.4 400.7,274.5 400.7,276.3 400.8,276.1 400.8,277.8 400.9,280.0 400.9,280.5 400.9,280.8 401.0,282.6 401.0,283.3 401.0,284.7 401.1,286.3 401.1,288.1 401.2,289.0 401.2,290.3 401.2,291.6 401.3,292.6 401.3,293.4 401.4,294.9 401.4,296.4 401.4,297.4 401.5,298.6 401.5,299.9 401.6,300.8 401.6,302.3 401.7,303.9 401.7,305.2 401.8,306.7 401.8,308.5 401.9,309.5 401.9,310.7 402.0,311.5 402.1,312.8 402.1,314.7 402.2,315.6 402.2,317.3 402.3,318.1 402.3,319.8 402.4,321.0 402.4,322.6 402.5,323.4 402.5,324.6 402.6,326.0 402.6,327.1 402.7,328.9 402.7,329.4 402.8,330.3 402.8,331.4 402.9,332.8 402.9,333.7 402.9,334.9 403.0,335.1 403.0,337.3 403.0,339.3 403.1,340.1 403.1,340.6 403.1,341.8 403.1,342.5 403.0,342.1 403.0,343.5 403.0,343.9 403.0,345.8 403.0,348.1 403.0,350.5 403.0,350.4 403.0,352.2 403.0,353.0 403.0,353.5 403.0,354.7 403.0,356.1 403.0,356.6 403.1,357.6 403.1,358.5 403.1,360.2 403.1,360.2 403.1,362.5 403.1,362.9 403.1,364.7 403.1,365.0 403.2,366.4 403.2,367.7 403.2,369.5 403.2,370.0 403.2,371.9 403.2,372.8 403.3,374.7 403.3,375.6 403.3,377.1 403.3,378.2 403.3,380.2 403.3,380.8 403.4,382.1 403.4,384.2 403.4,384.9 403.4,386.3 403.4,387.1 403.4,388.7 403.5,389.2 403.5,391.2 403.5,392.3 403.5,393.3 403.5,394.5 403.5,396.8 403.6,397.9 403.6,398.5 403.6,400.9 403.6,401.5 403.6,402.8 403.7,404.3 403.7,405.1 403.7,406.2 403.7,407.8 403.7,409.8 403.7,411.1 403.8,411.5 403.8,413.6 403.8,414.6 403.8,416.0 403.8,417.1 403.9,418.5 403.9,419.2 403.9,420.4 403.9,421.6 403.9,423.0 404.0,424.5 404.0,425.1 404.0,427.1 404.0,427.6 404.0,428.6 404.0,430.1 404.1,431.2 404.1,431.9 404.1,432.6 404.1,433.6 404.1,434.3 404.2,436.2 404.2,437.3 404.2,438.5 404.3,440.4 404.3,442.4 404.4,444.6 404.4,446.4 404.5,447.6 404.5,449.1 404.6,451.0 404.6,450.7 404.7,451.5 404.7,452.3 404.8,453.4 404.8,453.9 404.9,453.5 405.0,453.7 405.1,453.2 405.1,452.8 405.2,451.9 405.3,451.2 405.4,450.2 405.5,449.4 405.6,448.5 405.6,445.5 405.7,444.4 405.8,442.3 405.9,440.5 406.0,438.2 406.0,437.2 406.0,436.3 406.0,434.7 406.1,433.3 406.1,433.5 406.1,432.5 406.2,430.7 406.2,430.3 406.2,429.1 406.2,426.9 406.3,426.8 406.3,425.1 406.3,424.7 406.3,422.9 406.3,421.6 406.4,420.1 406.4,419.4 406.4,418.6 406.4,416.9 406.5,415.1 406.5,415.2 406.5,414.1 406.5,412.4 406.6,410.6 406.6,409.0 406.6,407.5 406.6,406.9 406.6,406.0 406.7,403.9 406.7,402.9 406.7,401.5 406.7,400.2 406.8,399.2 406.8,398.5 406.8,396.3 406.8,395.4 406.8,394.3 406.9,392.5 406.9,391.2 406.9,389.5 406.9,389.1 407.0,387.3 407.0,385.9 407.0,384.9 407.0,383.3 407.0,381.9 407.1,380.9 407.1,380.3 407.1,378.5 407.1,377.5 407.1,375.5 407.1,374.0 407.2,374.1 407.2,372.2 407.2,370.5 407.2,369.7 407.2,368.9 407.2,366.9 407.3,365.9 407.3,365.1 407.3,363.6 407.3,363.0 407.3,362.0 407.4,360.7 407.4,359.3 407.4,358.2 407.4,356.9 407.4,356.0 407.4,355.2 407.5,353.9 407.5,353.3 407.5,353.0 407.5,350.9 407.5,350.1 407.6,348.5 407.6,346.9 407.7,345.1 407.7,343.7 407.7,343.0 407.7,341.9 407.8,340.8 407.8,339.4 407.8,338.9 407.9,338.1 407.9,336.9 407.9,336.3 408.0,336.0 408.0,333.6 408.0,333.2 408.1,331.5 408.1,330.1 408.2,329.1 408.2,327.9 408.3,326.7 408.3,325.1 408.4,323.8 408.4,323.0 408.5,322.1 408.5,320.6 408.5,319.1 408.6,319.1 408.6,317.1 408.7,316.0 408.7,314.6 408.8,313.3 408.8,312.3 408.9,311.0 408.9,310.0 409.0,308.1 409.0,306.7 409.1,306.7 409.1,304.8 409.2,303.8 409.2,302.7 409.3,301.3 409.3,299.8 409.4,298.0 409.4,296.7 409.5,296.4 409.6,295.2 409.6,294.0 409.6,292.1 409.7,290.3 409.8,289.2 409.8,287.8 409.9,286.9 409.9,285.2 410.0,284.9 410.0,282.9 410.1,281.6 410.1,280.9 410.2,279.6 410.2,278.0 410.3,277.4 410.3,276.8 410.4,274.6 410.4,273.7 410.5,272.3 410.6,270.9 410.6,270.7 410.7,269.8 410.7,268.9 410.8,267.6 410.9,265.6 411.0,264.7 411.1,263.2 411.2,261.8 411.3,260.7 411.4,260.4 411.5,259.2 411.6,259.0 411.7,257.7 411.8,255.8 411.9,255.7 412.1,254.9 412.2,253.3 412.3,251.5 412.5,251.0 412.6,248.4 412.7,247.7 412.8,246.0 412.9,245.1 413.0,243.9 413.1,243.8 413.2,242.9 413.3,241.3 413.4,239.7 413.4,239.0 413.5,238.1 413.6,236.2 413.7,235.1 413.8,234.3 413.9,233.5 414.0,232.1 414.1,231.0 414.2,229.1 414.3,227.3 414.4,227.0 414.6,225.4 414.7,224.3 414.8,223.0 414.9,221.9 415.0,220.2 415.1,219.6 415.3,217.8 415.4,216.7 415.5,215.5 415.6,214.5 415.7,213.0 415.8,211.0 415.9,210.1 416.0,209.8 416.2,208.2 416.3,207.0 416.4,205.7 416.5,204.1 416.6,202.8 416.7,201.6 416.8,201.1 417.0,199.7 417.1,199.0 417.2,197.4 417.3,196.6 417.4,195.0 417.6,193.1 417.7,192.9 417.8,191.3 417.9,190.3 418.1,188.8 418.2,187.4 418.3,186.3 418.5,184.6 418.6,183.3 418.8,182.2 418.9,181.0 419.1,179.3 419.3,178.4 419.5,177.3 419.6,176.6 419.8,175.3 420.0,173.3 420.2,172.3 420.3,170.7 420.5,169.6 420.7,168.2 420.9,166.8 421.1,165.8 421.2,164.1 421.4,163.6 421.6,162.2 421.8,160.8 421.9,159.9 422.1,159.2 422.3,157.7 422.5,157.0 422.6,156.1 422.8,155.4 423.0,153.5 423.2,152.7 423.5,151.2 423.8,150.0 424.1,148.2 424.4,147.0 424.6,145.0 424.9,144.2 425.2,144.0 425.4,142.4 425.7,142.2 425.9,140.3 426.2,139.3 426.4,137.6 426.7,137.2 426.9,135.9 427.1,135.3 427.3,133.4 427.5,131.9 427.7,130.3 427.9,129.5 428.1,128.8 428.2,127.6 428.4,126.7 428.6,125.4 428.8,124.0 429.1,123.1 429.3,121.9 429.6,119.8 430.0,119.6 430.3,118.0 430.6,116.3 430.9,115.7 431.3,114.7 431.7,113.9 432.2,113.0 432.8,110.2 433.3,110.2 433.9,109.6 434.5,107.6 435.1,106.0 435.8,105.6 436.4,104.7 437.1,103.7 437.8,102.3 438.4,101.6 439.1,101.2 439.8,101.0 441.0,101.3 442.2,101.0 443.3,101.4 444.5,101.4 445.6,103.1 446.8,102.8 447.7,102.3 448.6,101.3 449.3,101.1 450.1,99.3 450.9,98.9 451.8,97.9 452.8,96.8 453.9,95.9 454.7,94.7 455.5,93.8 456.3,93.3 457.2,91.6 458.1,91.0 458.9,90.3 459.8,89.8 460.7,88.3 461.7,87.9 462.6,86.9 463.5,85.3 464.4,84.3 465.4,83.3 466.3,82.8 467.2,81.9 468.1,81.0 469.0,80.0 469.8,78.6 470.7,78.2 471.5,77.3 472.3,76.5 473.2,75.9 474.0,74.8 475.3,75.0 476.5,74.7 477.7,74.9 478.8,75.8 479.8,76.7 480.9,77.3 481.9,77.8 483.1,78.1 484.2,79.3 485.1,79.7 486.1,80.1 487.0,81.1 488.1,81.9 489.2,81.2 490.2,80.4 491.2,80.7 492.2,80.3 493.2,79.1 494.2,78.7 495.3,78.9 496.3,80.4 497.3,80.0 498.3,80.5 499.5,80.2 500.4,79.0 501.4,78.5 502.3,77.8 503.3,77.7 504.3,76.8 505.4,76.7 506.5,75.3 507.6,74.7 508.7,73.9 509.8,73.3 510.9,73.5 512.0,72.3 513.2,72.3 514.4,72.0 515.6,71.2 516.7,71.6 517.8,71.5 518.9,71.9 520.0,72.3 521.1,72.6 522.3,72.8 523.4,74.0 524.5,73.9 525.5,74.7 526.5,75.6 527.5,75.8 528.7,76.4 530.0,77.1 531.1,77.4 532.3,78.1 533.4,77.4 534.6,78.9 535.8,78.8 537.0,78.3 538.2,78.9 539.4,78.8 540.5,79.2 541.8,78.5 542.9,78.1 544.0,78.0 545.1,77.4 546.1,76.3 547.2,75.6 548.2,75.0 549.3,74.4 550.5,73.7 551.7,72.8 552.8,72.5 553.8,70.9 554.9,70.7 556.0,70.5 557.2,70.2 558.4,70.2 559.5,70.4 560.5,71.0 561.6,72.0 562.7,72.1 563.9,72.7 565.1,73.6 566.1,74.0 567.0,74.0 568.0,75.4 568.9,76.0 569.8,76.6 570.8,77.7 571.8,78.3 572.8,78.8 573.9,78.8 575.0,79.5 576.1,80.9 577.1,81.7 578.2,82.6 579.3,83.1 580.3,83.4 581.4,83.5 582.5,83.9 583.5,84.4 584.8,84.1 586.0,84.5 587.0,83.4 588.1,82.6 589.1,82.5 590.2,81.3 591.4,81.9 592.5,80.5 593.5,80.1 594.5,79.4 595.5,78.5 596.4,77.5 597.4,76.8 598.4,77.4 599.3,77.4 600.5,77.9 601.6,76.7 602.5,77.7 603.5,78.1 604.4,79.1 605.4,79.5 606.2,80.7 606.9,81.6 607.5,82.4 608.1,83.7 608.7,84.2 609.4,85.8 610.0,86.2 610.7,88.2 611.3,87.6 611.9,89.4 612.5,90.2 613.1,91.5 613.7,93.0 614.2,94.0 614.8,94.8 615.4,96.6 616.0,96.7 616.4,97.9 616.9,99.8 617.3,100.5 617.7,100.6 618.1,102.4 618.5,103.0 618.8,105.0 619.2,106.2 619.6,106.7 620.0,108.6 620.4,109.2 620.7,111.0 621.0,112.2 621.3,113.2 621.6,114.0 621.9,115.7 622.2,116.3 622.5,118.2 622.7,119.1 623.0,121.4 623.2,121.9 623.5,122.4 623.7,124.4 623.9,125.4 624.2,126.9 624.3,128.5 624.4,128.8 624.7,130.1 624.9,130.6 625.2,130.6 625.4,132.6 625.7,133.9 626.0,134.3 626.3,135.0 626.6,136.6 626.9,137.3 627.3,139.2 627.6,141.0 627.9,142.9 628.2,144.2 628.4,145.1 628.6,146.3 628.8,147.6 628.9,148.0 629.1,148.7 629.3,149.8 629.4,150.7 629.6,151.9 629.7,153.4 629.9,154.7 630.1,155.8 630.2,157.0 630.4,158.0 630.5,159.5 630.7,161.0 630.8,162.3 631.0,163.9 631.1,164.6 631.3,165.9 631.5,168.0 631.6,169.0 631.8,170.5 631.9,171.4 632.0,173.0 632.1,173.7 632.2,174.6 632.3,176.0 632.4,177.1 632.5,178.7 632.6,179.5 632.7,180.8 632.8,181.9 632.9,183.3 633.0,184.1 633.1,185.9 633.2,186.3 633.3,187.7 633.4,188.8 633.5,190.6 633.6,191.6 633.6,193.0 633.7,194.0 633.8,195.0 633.9,196.1 634.0,197.6 634.0,198.8 634.1,200.4 634.2,201.7 634.3,203.3 634.3,204.2 634.4,205.2 634.4,206.3 634.5,208.0 634.6,209.5 634.6,211.4 634.7,212.2 634.7,214.0 634.7,215.5 634.8,215.7 634.8,217.7 634.8,219.1 634.9,220.5 634.9,221.3 634.9,222.9 634.9,223.6 635.0,225.0 635.0,226.2 635.0,228.1 635.0,228.7 635.0,230.2 635.0,231.1 635.1,231.9 635.1,233.3 635.1,234.5 635.1,235.1 635.2,236.5 635.2,237.1 635.2,237.9 635.2,239.2 635.3,239.9 635.4,242.0 635.5,243.6 635.5,245.6 635.6,246.8 635.7,247.4 635.8,248.3 635.9,248.3 636.0,249.7 636.1,250.7 636.3,252.2 636.6,253.4 636.8,254.9 637.0,256.1 637.3,257.2 637.5,257.2 637.8,256.9 638.1,255.8 638.4,255.2 638.6,254.1 638.9,252.0 639.1,250.8 639.3,249.7 639.4,248.6 639.6,247.3 639.7,247.4 639.8,245.2 639.9,244.7 640.0,243.2 640.1,242.2 640.2,239.9 640.2,239.1 640.2,238.4 640.3,237.4 640.3,236.0 640.3,235.5 640.3,234.4 640.3,233.6 640.3,232.0 640.3,231.0 640.3,229.8 640.3,228.5 640.3,227.6 640.4,226.5 640.4,225.6 640.4,223.7 640.4,222.4 640.4,221.3 640.5,219.3 640.5,217.7 640.6,216.7 640.6,215.3 640.6,214.0 640.7,213.7 640.7,212.3 640.7,211.0 640.8,209.3 640.8,208.6 640.9,207.9 640.9,205.9 641.0,204.6 641.0,204.1 641.1,203.1 641.1,202.0 641.2,200.0 641.2,199.0 641.3,197.3 641.3,196.5 641.4,194.9 641.4,193.8 641.5,193.0 641.5,191.5 641.6,190.0 641.6,188.8 641.7,187.6 641.8,186.1 641.8,185.1 641.9,184.1 641.9,183.3 642.0,180.6 642.1,179.3 642.1,178.0 642.2,177.4 642.3,176.8 642.3,174.8 642.4,173.4 642.5,172.5 642.5,169.9 642.6,169.3 642.7,167.1 642.7,167.0 642.8,165.7 642.9,164.6 642.9,163.7 643.0,162.3 643.1,161.7 643.1,160.3 643.2,159.3 643.3,159.0 643.4,157.0 643.4,156.3 643.5,154.6 643.6,154.3 643.7,153.2 643.8,151.3 644.0,150.0 644.1,148.9 644.3,147.5 644.4,145.7 644.6,144.4 644.7,143.7 644.9,141.7 645.0,140.8 645.2,140.3 645.3,139.4 645.4,138.9 645.6,138.0 645.7,136.5 645.8,135.5 646.0,133.1 646.1,132.1 646.1,131.1 646.2,130.0 646.3,129.0 646.3,128.2 646.5,126.4 646.7,125.0 646.8,123.5 647.0,123.4 647.2,121.5 647.4,120.0 647.6,119.7 647.8,118.2 648.0,117.4 648.3,115.8 648.5,115.5 648.8,113.9 649.0,112.5 649.3,111.3 649.7,109.7 650.0,108.8 650.3,108.0 650.7,106.0 651.1,104.5 651.4,104.0 651.9,103.2 652.3,101.3 652.8,100.4 653.5,99.0 654.2,98.5 654.8,97.6 655.6,96.2 656.3,95.1 657.2,94.8 658.1,92.9 658.9,93.0 659.7,92.0 660.6,92.0 661.5,91.0 662.3,89.6 663.2,88.9 664.2,88.2 665.1,87.3 666.1,86.7 667.1,86.2 668.1,84.6 669.1,84.2 670.1,84.2 671.1,83.3 672.1,82.0 673.2,81.3 674.2,80.6 675.1,79.8 676.1,80.3 677.1,79.5 678.1,78.8 679.1,78.2 680.4,78.3 681.6,78.1 682.8,78.9 683.9,78.3 685.0,78.5 686.1,79.2 687.3,79.5 688.3,79.8 689.2,79.8 690.2,81.8 691.4,82.6 692.4,82.8 693.3,83.7 694.3,84.1 695.3,84.8 696.3,85.3 697.4,86.6 698.4,87.2 699.6,87.5 700.8,87.9 701.9,87.9 703.1,87.8 704.2,87.3 705.4,87.7 706.6,87.9 707.7,87.7 708.8,87.7 709.9,86.9 711.1,86.3 712.5,86.7 713.5,85.8 714.6,85.5 715.6,84.9 716.7,84.4 717.8,83.8 718.9,83.2 720.1,82.4 721.2,83.4 722.5,82.8 723.8,81.9 725.0,82.2 726.2,82.3 727.4,82.6 728.7,82.2 730.0,83.6 731.2,84.4 732.4,84.2 733.7,84.9 734.9,85.4 736.0,85.1 737.1,86.4 738.0,85.8 738.8,86.4 740.0,87.2 740.9,88.3 742.0,88.6 743.2,89.1 744.4,89.2 745.5,89.6 746.5,89.5 747.5,89.4 748.8,89.4 749.9,88.8 751.0,88.1 752.2,87.5 753.4,87.7 754.6,86.8 755.8,86.2 757.0,86.3 758.1,85.9 759.2,85.1 760.5,84.4 761.7,83.8 762.8,84.1 763.9,83.4 765.1,83.7 766.3,83.0 767.5,83.2 768.7,83.3 769.8,83.3 770.9,83.5 772.2,83.8 773.4,83.7 774.6,84.1 775.7,85.1 776.9,86.5 778.0,86.7 779.0,87.1 779.8,88.1 780.6,89.3 781.4,90.6 782.4,90.8 783.5,91.8 784.6,92.3 785.8,92.5 787.0,92.6 788.2,93.1 789.5,92.9 790.7,93.2 791.8,92.2 793.0,92.9 794.1,92.8 795.3,92.6 796.5,92.8 797.5,92.5 798.5,91.9 799.6,92.9 800.4,93.8 801.4,95.1 801.7,95.8 802.1,97.4 802.4,98.6 802.8,99.5 803.1,100.8 803.4,102.0 803.7,103.1 804.0,104.5 804.3,106.0 804.7,106.7 805.0,108.3 805.2,110.3 805.5,111.0 805.8,112.0 806.2,113.8 806.7,114.8 807.2,115.8 807.7,116.1 808.1,115.8 808.5,115.4 808.9,114.2 809.4,111.8 809.6,110.7 809.9,110.0 810.1,108.9 810.3,107.6 810.6,105.5 810.8,104.6 811.0,102.6 811.2,102.3 811.4,100.9 811.6,99.9 811.8,99.0 811.9,97.7 812.0,96.3 812.1,95.1 812.3,94.0 812.7,92.4 813.2,91.4 813.8,91.2 814.5,89.3 815.5,88.3 816.5,87.7 817.6,87.3 818.9,87.0 820.0,86.3 821.2,86.7 822.3,87.0 823.5,87.0 824.8,87.7 826.0,87.8 827.1,88.5 828.2,88.5 829.4,88.2 830.6,88.4 831.8,88.0 832.9,87.6 834.0,87.2 835.1,87.4 836.5,86.5 837.6,85.7 838.9,85.7 840.1,86.0 841.3,86.3 842.6,84.9 843.8,84.7 845.0,84.2 846.2,83.3 847.2,83.4 848.3,82.8 849.6,82.6 850.8,83.2 852.0,82.3 853.3,82.6 854.5,82.7 855.7,82.3 856.9,82.3 858.2,83.1 859.4,83.0 860.6,82.8 861.6,82.4 862.8,83.2 864.2,83.4 865.6,84.2 866.7,84.2 867.6,84.1" stroke="#f0a30a" stroke-width="2.35"/>
<path d="M97.4,54.8 98.1,54.7 98.9,54.4 99.9,54.5 100.9,54.4 102.1,54.4 103.4,54.5 104.7,54.1 106.1,53.6 107.5,54.0 108.7,54.2 109.8,53.3 111.0,53.5 112.1,53.5 113.3,53.5 114.5,53.4 115.7,53.1 116.9,53.0 118.1,53.6 119.3,53.7 120.5,52.5 121.6,52.0 123.0,53.1 124.2,53.0 125.3,53.2 126.3,53.1 127.4,54.0 128.4,54.2 129.5,54.2 130.7,54.8 132.1,55.5 133.2,55.2 134.3,55.0 135.5,54.3 136.6,54.4 137.7,54.0 138.9,54.3 140.1,53.9 141.2,53.5 142.4,53.5 143.7,52.9 144.9,53.3 146.1,53.6 147.4,52.9 148.6,53.1 149.8,52.4 151.0,53.2 152.2,53.4 153.4,52.8 154.6,53.8 155.7,53.4 156.8,52.7 158.0,52.9 159.1,53.8 160.2,53.6 161.6,54.3 162.9,53.6 164.0,54.3 165.1,55.1 166.2,54.8 167.3,55.5 168.4,55.4 169.5,55.7 170.7,55.8 171.9,56.4 173.1,55.0 174.2,55.3 175.3,55.2 176.4,54.0 177.5,53.9 178.7,54.4 179.9,53.8 181.2,52.0 182.5,52.5 183.7,51.9 184.9,52.3 186.1,51.9 187.4,51.7 188.6,51.5 189.8,51.7 191.0,51.4 192.3,51.2 193.5,51.4 194.8,51.8 196.1,51.5 197.2,52.3 198.3,51.6 199.4,52.5 200.5,52.5 201.7,53.5 202.8,53.2 204.0,53.4 205.3,53.6 206.5,55.3 207.6,55.5 208.7,55.4 209.9,56.1 211.0,56.4 212.1,57.7 213.3,57.8 214.6,57.0 215.8,57.7 217.0,57.9 218.1,57.3 219.3,57.1 220.4,56.5 221.5,56.2 222.7,55.8 223.9,55.1 225.1,55.2 226.3,55.0 227.5,54.7 228.7,54.2 229.8,53.9 230.9,54.2 232.0,54.5 233.2,53.3 234.4,54.0 235.6,55.0 236.7,55.3 237.8,55.2 238.8,56.4 239.9,56.3 240.9,56.9 241.9,58.6 242.9,58.5 244.0,59.2 245.0,59.2 246.1,59.9 247.4,60.3 248.6,61.2 249.7,61.0 250.8,62.3 252.0,62.3 253.1,62.4 254.2,62.5 255.4,63.2 256.7,63.6 257.9,62.9 259.1,63.4 260.3,63.2 261.5,62.8 262.6,62.1 263.8,61.0 264.9,61.4 266.0,60.8 267.2,60.8 268.6,59.8 269.9,60.0 271.1,60.1 272.3,59.6 273.5,59.9 274.7,60.5 276.0,60.2 277.1,60.0 278.2,61.3 279.2,60.1 280.2,60.8 281.3,61.8 282.3,62.0 283.5,61.9 284.7,63.5 285.7,64.4 286.6,64.5 287.5,66.0 288.5,66.5 289.4,67.5 290.4,67.4 291.3,68.5 292.3,69.9 293.2,70.8 294.2,71.1 295.3,71.0 296.5,71.3 297.8,71.1 299.1,71.8 300.3,71.1 301.6,71.2 302.7,70.2 303.8,70.1 304.9,71.2 305.8,70.6 307.3,70.5 308.2,69.4 309.0,70.0 310.0,70.7 311.2,69.3 312.4,68.5 313.7,69.3 315.3,69.8 316.1,70.4 316.9,70.7 317.7,71.3 318.5,72.2 319.4,73.8 320.3,74.7 321.3,76.1 322.3,76.7 323.0,78.0 323.7,78.6 324.3,79.7 325.0,81.0 325.6,81.6 326.3,82.4 327.0,82.9 327.7,84.4 328.5,85.8 329.3,86.3 330.1,87.4 331.1,87.8 331.9,88.7 332.9,90.1 333.8,91.3 334.8,91.5 335.8,91.6 336.8,92.7 337.8,93.0 338.8,94.1 339.8,95.6 340.7,95.9 341.6,96.4 342.5,97.6 343.3,98.0 344.2,99.2 345.0,100.2 345.8,101.3 346.4,101.7 347.0,103.4 347.6,104.6 348.1,104.5 348.7,105.2 349.2,106.8 349.8,108.9 350.4,109.6 351.0,110.9 351.6,112.0 352.2,113.2 352.7,113.7 353.2,114.6 353.7,116.0 354.2,117.1 354.7,118.1 355.1,119.1 355.6,119.8 356.1,121.6 356.6,122.7 357.1,124.1 357.5,124.0 357.9,126.3 358.3,126.3 358.6,128.1 358.9,128.7 359.1,129.7 359.1,129.8 359.3,130.5 359.5,131.5 359.7,132.4 359.9,132.8 360.1,133.1 360.4,134.7 360.6,136.3 360.9,137.0 361.2,138.6 361.5,139.5 361.8,140.5 362.1,142.5 362.4,144.1 362.7,144.8 363.0,146.1 363.3,147.8 363.6,148.3 363.9,149.7 364.1,151.8 364.4,153.2 364.6,153.9 364.8,154.9 365.0,156.5 365.2,157.0 365.3,158.4 365.5,159.7 365.7,160.1 365.8,162.2 366.0,163.6 366.1,164.9 366.3,165.1 366.4,166.2 366.5,167.6 366.7,168.6 366.8,171.0 367.0,171.3 367.1,172.6 367.3,174.0 367.4,175.4 367.6,177.1 367.7,177.5 367.9,179.4 368.1,180.4 368.2,181.1 368.4,182.8 368.5,183.5 368.7,185.7 368.8,186.2 368.9,187.9 369.1,189.3 369.2,189.8 369.4,190.8 369.5,192.3 369.6,193.1 369.8,195.0 369.9,196.0 370.1,196.7 370.2,197.9 370.4,199.5 370.5,199.9 370.6,202.2 370.8,202.5 370.9,203.7 371.1,204.6 371.2,206.6 371.4,207.6 371.6,209.2 371.8,210.4 372.1,211.5 372.3,213.4 372.5,214.4 372.7,215.5 372.9,216.7 373.2,218.0 373.4,219.0 373.6,219.9 373.8,220.4 374.0,222.8 374.2,222.8 374.3,223.4 374.5,224.8 374.7,226.9 374.8,227.8 374.9,228.1 375.1,229.9 375.2,231.2 375.2,231.6 375.2,233.2 375.2,234.4 375.1,235.7 375.1,235.9 375.1,236.4 375.2,237.8 375.3,240.0 375.4,241.1 375.5,242.2 375.6,243.2 375.7,244.1 375.9,244.8 376.0,246.5 376.2,247.7 376.4,249.0 376.5,250.4 376.7,250.7 376.9,251.4 377.0,252.7 377.2,255.5 377.4,255.9 377.5,257.7 377.7,258.7 377.8,260.2 378.0,262.3 378.1,262.3 378.2,263.4 378.4,264.4 378.5,266.0 378.6,267.3 378.8,268.0 378.9,270.0 379.0,271.2 379.2,272.1 379.3,273.0 379.4,274.1 379.5,274.7 379.6,276.6 379.7,277.2 379.8,278.4 380.0,280.5 380.1,281.2 380.2,282.6 380.2,284.4 380.3,286.1 380.4,286.3 380.4,287.9 380.5,288.4 380.5,289.7 380.6,290.8 380.6,291.2 380.7,293.0 380.8,295.2 380.9,296.4 381.1,298.0 381.2,298.9 381.3,301.1 381.4,301.3 381.6,300.9 381.7,301.3 381.8,299.8 382.0,299.0 382.1,297.2 382.3,297.0 382.4,296.0 382.5,293.5 382.7,291.9 382.8,290.6 383.0,289.1 383.1,288.0 383.2,286.9 383.3,284.6 383.4,283.8 383.5,282.1 383.7,282.6 384.4,283.9 385.1,284.5 385.2,284.6 385.3,283.3 385.4,282.9 385.5,281.7 385.6,280.8 385.7,278.6 385.8,277.4 385.9,276.1 386.0,274.4 386.1,273.5 386.2,271.2 386.3,270.2 386.4,269.2 386.5,266.8 386.6,265.8 386.7,264.6 386.9,263.4 387.0,262.5 387.1,261.1 387.2,259.9 387.3,258.4 387.4,257.3 387.5,256.3 387.6,255.3 387.8,253.5 387.9,252.6 388.0,251.3 388.1,250.4 388.2,248.3 388.4,247.7 388.6,246.5 388.7,245.0 388.8,243.8 389.0,242.8 389.1,241.8 389.2,240.4 389.3,240.5 389.4,240.1 389.4,237.7 389.5,236.7 389.5,236.6 389.5,235.6 389.6,233.3 389.8,230.9 389.9,231.0 390.0,229.2 390.1,229.4 390.2,227.8 390.3,226.8 390.4,225.7 390.5,224.3 390.7,223.2 390.8,222.0 390.9,221.3 391.1,219.6 391.2,218.3 391.3,216.8 391.5,215.5 391.6,214.2 391.8,213.2 391.9,212.7 392.0,211.3 392.2,209.7 392.3,209.0 392.5,207.7 392.6,205.9 392.8,204.3 393.0,202.6 393.1,201.8 393.3,200.4 393.4,198.7 393.6,197.6 393.7,197.7 393.9,196.1 394.0,195.0 394.2,193.8 394.3,192.4 394.5,191.6 394.7,190.7 394.9,189.1 395.1,188.1 395.3,187.0 395.5,185.2 395.7,184.1 396.0,182.5 396.2,181.8 396.4,180.3 396.6,179.6 396.8,177.8 397.1,177.5 397.3,175.8 397.5,174.4 397.8,173.2 398.1,172.7 398.3,171.1 398.6,171.0 399.0,169.5 399.4,168.0 399.7,166.0 400.1,165.3 400.5,164.1 400.9,162.6 401.3,162.4 401.7,162.2 402.1,160.2 402.5,159.5 403.0,158.6 403.5,156.6 403.9,155.5 404.4,154.6 404.9,153.6 405.3,151.8 405.8,151.2 406.3,150.0 406.7,149.3 407.2,147.3 407.7,146.5 408.2,145.6 408.9,144.4 409.5,143.8 410.1,142.3 410.7,142.6 411.3,140.6 411.9,140.1 412.4,139.4 413.0,138.4 413.5,137.0 414.1,135.5 414.6,134.6 415.1,134.0 415.5,132.8 415.9,131.9 416.4,130.6 417.0,128.5 417.4,127.3 417.8,127.1 418.2,125.4 418.7,123.7 419.1,123.7 419.5,121.7 420.0,120.3 420.4,119.8 420.9,117.8 421.3,116.6 421.8,116.2 422.3,114.5 422.8,114.4 423.4,112.4 423.9,112.1 424.4,110.1 424.9,108.9 425.4,107.6 425.9,106.8 426.5,105.8 427.0,105.0 427.5,104.5 428.4,102.5 429.3,101.5 430.1,100.2 430.9,100.8 431.8,99.7 432.8,98.9 433.9,98.2 435.0,97.9 436.2,97.2 437.4,96.9 438.6,96.3 439.8,96.3 440.9,96.6 441.9,96.5 442.9,98.2 443.8,98.2 444.8,99.1 445.8,100.4 446.8,100.8 448.1,101.4 449.2,102.1 450.4,102.5 451.5,102.4 452.6,101.5 453.9,101.8 454.8,100.3 455.7,99.7 456.5,99.3 457.4,98.0 458.2,96.9 459.1,95.7 460.0,95.3 460.9,92.8 461.7,93.0 462.5,92.1 463.3,90.6 464.1,89.7 464.8,88.1 465.6,87.8 466.3,87.7 467.1,85.5 467.9,85.4 469.2,84.0 470.4,83.1 471.6,82.6 472.8,82.6 474.0,82.3 475.1,82.5 476.1,84.2 477.0,84.4 478.0,85.3 479.1,86.0 480.2,86.9 481.2,86.8 482.2,87.5 483.2,88.8 484.2,89.7 485.2,89.5 486.2,90.2 487.2,90.6 488.5,92.0 489.6,92.6 490.8,93.0 492.0,93.1 493.3,93.4 494.4,93.2 495.5,92.5 496.6,92.4 497.7,91.5 498.8,91.4 500.0,90.8 501.2,89.6 502.3,89.4 503.4,88.7 504.4,87.8 505.5,87.0 506.6,86.1 507.7,85.7 508.8,85.8 510.0,85.7 511.3,84.7 512.5,84.6 513.8,84.4 515.0,84.3 516.2,84.0 517.4,84.3 518.6,84.2 519.6,83.8 520.8,84.6 521.8,84.3 522.7,85.8 523.5,86.9 524.3,88.0 525.0,88.5 525.8,89.6 527.0,90.6 527.9,90.3 528.8,90.7 530.0,91.6 530.9,92.4 531.9,93.1 532.9,94.1 534.0,94.1 535.0,95.2 536.1,95.6 537.2,95.3 538.2,94.5 539.2,93.5 540.1,92.8 541.2,91.8 542.3,90.4 543.3,90.1 544.3,89.8 545.2,89.0 546.2,88.2 547.2,88.0 548.2,87.6 549.3,87.5 550.5,87.5 551.6,87.6 552.7,88.2 553.8,88.3 555.0,88.9 556.3,88.9 557.3,88.5 558.2,89.9 559.2,90.9 560.1,91.1 561.1,91.5 562.0,91.8 563.0,93.3 564.0,93.6 565.1,94.6 566.0,95.8 566.9,96.4 567.8,97.9 568.6,98.0 569.5,99.2 570.3,100.1 571.2,100.5 572.0,101.6 572.9,102.2 573.9,102.9 574.9,104.3 575.9,104.8 576.9,106.5 577.9,106.5 578.8,107.1 579.8,108.1 580.7,108.6 581.7,109.6 582.6,110.1 583.7,110.6 584.6,110.9 585.5,112.0 586.4,113.8 587.2,114.2 588.0,114.8 588.8,115.4 589.6,116.4 590.4,117.5 591.1,117.9 591.7,119.0 592.3,120.1 592.9,121.9 593.5,122.2 594.0,123.9 594.5,124.3 594.9,126.3 595.6,126.6 595.9,127.1 596.2,128.4 596.7,130.4 596.9,131.2 597.1,131.3 597.3,133.0 597.5,134.3 597.8,134.6 598.0,135.5 598.2,136.3 598.5,138.2 598.7,139.3 599.0,140.4 599.2,141.2 599.5,143.6 599.7,144.9 599.9,146.0 600.2,148.1 600.3,148.3 600.5,150.0 600.6,150.4 600.7,152.3 600.9,152.9 601.0,154.4 601.1,155.0 601.2,156.3 601.3,157.7 601.5,158.1 601.6,159.5 601.7,160.4 601.8,162.1 601.9,162.9 602.0,164.1 602.1,165.5 602.2,167.3 602.3,167.8 602.5,169.5 602.6,170.8 602.7,172.1 602.8,173.5 602.9,174.9 603.0,176.2 603.1,176.7 603.2,178.5 603.3,179.2 603.4,180.8 603.4,182.9 603.5,183.0 603.6,184.4 603.7,185.5 603.8,187.2 603.9,187.9 604.0,188.6 604.0,189.8 604.1,191.7 604.2,193.0 604.3,194.6 604.4,195.2 604.4,196.8 604.5,197.5 604.6,199.5 604.6,200.3 604.7,201.3 604.8,202.8 604.8,204.7 604.9,205.0 605.0,206.0 605.0,207.3 605.1,208.4 605.1,210.2 605.2,211.8 605.2,212.9 605.3,214.3 605.3,216.0 605.3,216.7 605.4,217.5 605.4,218.3 605.4,220.3 605.4,221.3 605.4,222.6 605.5,224.0 605.5,225.3 605.5,225.6 605.5,226.9 605.5,228.5 605.5,229.6 605.5,231.2 605.6,231.8 605.6,232.2 605.6,234.5 605.6,234.8 605.7,236.0 605.7,237.7 605.7,238.4 605.8,240.9 605.9,241.6 605.9,242.9 606.0,243.8 606.0,245.9 606.1,246.6 606.2,247.1 606.3,248.8 606.3,248.9 606.4,250.2 606.5,251.6 606.6,252.6 606.7,253.2 606.8,255.2 606.8,256.4 606.9,256.6 607.0,258.1 607.1,259.0 607.2,260.3 607.3,262.2 607.4,263.3 607.5,264.7 607.5,266.4 607.6,267.0 607.7,269.0 607.7,269.6 607.8,271.6 607.8,272.4 607.9,273.8 608.0,276.0 608.0,277.1 608.1,278.2 608.1,279.8 608.2,281.8 608.2,283.9 608.3,285.1 608.4,286.2 608.4,287.5 608.5,289.1 608.5,290.9 608.6,292.6 608.6,293.7 608.7,295.8 608.7,296.4 608.8,297.7 608.9,299.4 608.9,300.7 609.0,301.4 609.0,302.9 609.1,303.0 609.1,304.8 609.2,305.9 609.3,306.4 609.3,306.2 609.4,307.2 609.4,306.7 609.5,307.2 609.5,306.6 609.6,306.5 609.6,306.2 609.7,304.9 609.7,304.8 609.8,304.9 609.8,302.4 609.9,302.5 609.9,301.9 610.0,300.6 610.0,299.4 610.1,298.6 610.1,296.9 610.2,294.7 610.2,293.5 610.3,292.3 610.3,291.0 610.3,289.3 610.4,287.8 610.4,287.0 610.5,283.7 610.5,283.5 610.6,282.0 610.6,280.3 610.6,278.5 610.7,277.0 610.7,275.6 610.8,274.1 610.8,272.3 610.9,271.4 610.9,269.6 611.0,268.5 611.0,267.3 611.1,265.9 611.1,264.9 611.2,263.2 611.3,261.3 611.3,260.3 611.4,258.5 611.5,258.2 611.5,256.8 611.6,256.1 611.7,254.1 611.7,253.3 611.8,251.6 611.9,250.5 611.9,249.7 612.0,248.9 612.0,248.1 612.1,246.6 612.2,246.0 612.2,244.9 612.3,243.2 612.3,242.2 612.4,240.8 612.5,240.6 612.5,238.5 612.6,237.7 612.6,236.5 612.7,234.9 612.7,233.6 612.7,232.8 612.8,231.3 612.8,229.9 612.9,228.9 612.9,228.4 612.9,227.3 613.0,226.9 613.0,224.5 613.0,224.0 613.1,222.4 613.1,222.0 613.2,220.7 613.3,219.2 613.3,218.3 613.4,216.5 613.5,215.1 613.5,213.7 613.6,212.7 613.7,211.8 613.8,210.9 613.8,210.0 613.9,208.3 614.0,206.9 614.1,205.8 614.2,204.6 614.2,203.5 614.3,202.3 614.4,200.9 614.5,200.0 614.6,198.7 614.7,197.6 614.7,195.9 614.8,195.2 614.9,194.2 615.0,193.0 615.1,191.2 615.2,189.7 615.3,188.3 615.3,187.1 615.4,186.0 615.5,184.9 615.6,183.2 615.6,182.8 615.7,180.9 615.8,179.9 615.8,178.8 615.9,178.2 616.0,177.4 616.1,175.5 616.1,174.3 616.2,173.0 616.3,171.9 616.4,170.8 616.5,170.6 616.5,168.3 616.6,167.3 616.7,165.9 616.8,165.2 617.0,163.5 617.1,162.6 617.2,160.7 617.4,160.6 617.5,158.9 617.6,156.9 617.8,156.6 617.9,155.2 618.0,153.8 618.2,153.3 618.3,152.0 618.5,151.3 618.6,149.8 618.8,149.2 618.9,147.8 619.1,146.7 619.3,145.4 619.5,143.9 619.6,142.6 619.8,141.7 620.0,140.6 620.2,139.0 620.4,138.7 620.5,137.4 620.7,135.1 620.9,134.6 621.1,133.0 621.3,131.9 621.4,130.4 621.6,130.1 621.8,128.1 622.0,127.1 622.2,125.8 622.4,125.6 622.6,124.4 622.8,122.4 623.0,121.5 623.3,120.3 623.6,118.6 623.9,117.2 624.1,115.7 624.4,115.0 624.7,113.4 625.0,113.0 625.2,112.7 625.5,110.7 625.8,110.3 626.1,109.0 626.5,107.5 627.0,106.1 627.5,104.6 628.0,103.7 628.5,102.9 629.0,102.1 629.6,100.7 630.2,99.4 630.9,98.9 631.8,98.4 632.9,97.0 633.9,96.0 634.9,94.5 636.0,94.6 637.0,94.7 638.1,94.2 639.1,95.4 640.1,95.4 641.1,96.0 642.3,96.9 643.2,97.8 644.2,99.0 645.2,99.3 646.2,99.6 647.3,101.0 648.3,102.0 649.3,103.1 650.6,102.8 651.8,104.2 652.9,104.4 654.1,104.4 655.4,104.0 656.5,103.7 657.6,103.5 658.8,103.8 659.9,103.3 661.0,103.1 662.2,102.9 663.3,101.7 664.5,100.9 665.5,100.9 666.5,99.0 667.5,98.3 668.5,97.5 669.4,96.8 670.4,96.3 671.5,95.3 672.5,95.4 673.4,94.1 674.4,93.9 675.6,93.4 676.7,93.3 677.8,94.1 678.9,94.4 680.0,94.3 681.3,95.0 682.6,95.4 683.7,95.3 684.7,95.9 685.7,96.5 686.8,97.7 687.9,97.4 689.0,98.1 690.1,98.7 691.4,99.4 692.6,99.5 693.7,100.1 694.9,99.7 696.1,100.2 697.3,99.9 698.4,100.8 699.6,101.9 700.8,101.3 701.9,101.1 703.2,101.0 704.3,100.6 705.4,99.6 706.5,99.2 707.5,98.8 708.6,98.4 709.6,97.4 710.7,97.1 712.0,96.3 713.1,95.5 714.3,95.2 715.4,94.7 716.5,94.8 717.5,94.6 718.6,94.0 720.0,93.1 721.2,92.5 722.3,91.7 723.4,91.8 724.7,92.5 725.9,92.5 727.0,92.4 728.2,92.4 729.3,92.8 730.5,93.3 731.8,93.4 733.0,93.6 734.4,93.2 735.7,93.5 736.9,93.4 737.9,94.0 738.8,93.3 740.0,95.1 740.9,94.3 742.0,93.5 743.2,93.0 744.6,92.4 745.8,91.6 747.0,91.4 748.1,90.6 749.2,89.7 750.4,90.1 751.7,89.5 752.9,89.8 754.1,89.0 755.3,87.6 756.6,88.3 757.8,87.4 759.0,87.5 760.3,87.9 761.5,87.3 762.6,86.3 763.7,86.6 764.8,86.3 766.0,87.5 767.0,88.2 768.0,88.4 769.0,89.9 770.0,91.4 770.5,92.3 771.0,92.7 771.5,93.7 771.9,94.6 772.4,95.7 772.8,97.4 773.2,98.6 773.6,100.2 774.0,101.1 774.4,102.1 774.8,102.9 775.2,105.1 775.6,105.9 775.9,106.8 776.2,107.3 776.5,108.1 777.5,110.7 778.3,110.4 778.7,110.4 779.2,109.8 779.7,108.5 780.2,106.6 780.6,105.7 780.8,105.1 781.0,103.3 781.2,101.8 781.4,101.3 781.6,99.8 781.7,98.1 781.9,97.5 782.0,95.9 782.2,95.0 782.4,93.8 782.7,91.7 783.0,91.2 783.8,90.0 784.6,88.9 785.4,88.8 786.4,89.0 787.4,88.5 788.5,88.3 789.7,87.1 790.6,86.6 791.5,85.4 792.4,84.3 793.3,83.8 794.3,82.5 795.2,82.3 796.1,81.3 797.0,80.8 798.3,79.6 799.4,79.1 800.4,79.0 801.5,78.2 802.8,77.6 804.0,77.7 805.2,78.0 806.4,77.7 807.6,77.4 808.9,77.3 810.1,77.2 811.4,78.0 812.6,77.4 813.7,77.3 814.9,77.2 816.1,76.7 817.5,76.6 818.7,76.1 820.0,75.6 821.3,76.3 822.6,76.1 823.8,76.3 825.1,75.9 826.2,76.3 827.7,77.6 828.9,77.3 830.0,78.2 831.0,79.2 832.1,78.8 833.1,78.7 833.9,77.4 834.6,77.6 835.5,76.5 836.5,76.1 837.2,74.9 838.0,73.9 838.9,73.3 839.7,72.2 840.5,71.2 841.4,71.1 842.3,70.2 843.5,69.1 844.7,68.6 845.8,68.1 846.9,67.6 848.1,66.9 849.4,66.5 850.5,66.4 851.6,66.3 852.8,66.1 854.0,65.7 855.2,65.8 856.3,66.2 857.5,65.9 858.6,66.3 859.8,66.7 861.1,66.4 862.4,66.0 863.6,65.9 864.7,65.5 865.7,65.9 867.0,65.7 867.6,65.5" stroke="#6c1487" stroke-width="2.35"/>
<path d="M97.4,69.2 98.1,69.6 98.9,69.6 99.9,69.2 100.9,68.7 102.1,69.0 103.4,68.6 104.7,68.6 106.1,68.8 107.5,68.5 108.7,68.9 109.8,68.5 111.0,68.6 112.2,68.8 113.4,69.5 114.7,69.7 115.9,69.5 117.1,69.0 118.3,69.3 119.4,69.7 120.5,69.9 121.6,69.1 123.0,69.8 124.1,69.9 125.0,70.7 125.8,71.1 126.7,71.0 127.7,72.2 128.9,71.7 130.4,72.7 131.4,71.8 132.6,71.7 133.8,72.3 135.1,71.5 136.4,71.2 137.7,71.8 139.0,71.2 140.3,71.2 141.6,70.4 142.9,71.3 144.0,71.1 145.1,70.8 146.1,70.8 147.9,70.4 149.2,70.5 150.2,70.3 151.1,71.2 152.0,71.9 153.2,72.1 154.4,72.6 155.6,73.0 156.8,72.9 157.9,73.2 159.1,74.3 160.2,74.5 161.4,74.7 162.4,74.0 163.4,73.3 164.4,73.4 165.4,73.0 166.5,72.8 167.4,73.5 168.3,74.0 169.4,74.3 170.7,74.6 171.7,75.1 172.6,75.4 173.7,74.9 174.7,73.7 175.8,73.7 177.0,72.9 178.2,72.7 179.5,72.1 180.6,72.1 181.7,71.4 182.8,72.5 183.9,71.6 185.1,72.0 186.2,71.6 187.4,72.0 188.7,71.6 190.0,72.1 191.1,72.9 192.3,73.2 193.5,72.7 194.6,74.0 195.8,73.9 197.0,74.9 198.1,75.6 199.2,75.6 200.3,76.2 201.3,76.6 202.3,77.2 203.8,77.8 205.1,78.1 206.1,77.8 207.1,78.4 208.1,77.5 209.3,78.5 210.5,78.2 211.6,78.9 212.7,79.0 213.8,79.4 215.0,79.4 216.3,80.1 217.5,80.9 218.8,80.4 220.1,80.2 221.3,80.2 222.6,80.5 223.9,80.3 225.1,80.5 226.2,81.0 227.3,82.0 228.2,82.5 229.2,82.4 230.1,83.0 231.1,83.7 232.1,84.3 233.3,84.5 234.6,83.8 235.7,84.3 236.9,83.2 238.0,83.5 239.1,83.8 240.1,84.4 240.9,84.6 241.6,85.6 242.4,85.9 243.3,86.6 244.4,87.7 245.4,88.8 246.5,89.4 247.6,89.4 248.8,90.1 249.9,90.2 251.1,90.8 252.2,89.9 253.2,90.2 254.8,90.1 256.0,89.8 257.2,90.4 258.4,89.6 259.5,89.8 260.5,90.4 261.6,91.4 262.6,91.5 263.7,92.2 264.9,92.1 266.0,91.3 267.2,90.4 268.9,90.9 269.8,91.1 270.8,92.5 271.8,92.1 272.8,92.3 273.9,93.2 274.9,93.6 276.1,93.8 277.2,95.0 278.3,95.6 279.5,96.0 280.6,96.1 281.7,96.6 282.8,96.9 283.9,98.3 285.0,99.1 286.0,99.3 287.0,100.3 288.1,102.2 289.0,101.5 290.0,101.8 291.1,103.5 292.1,104.2 293.0,105.1 293.9,106.4 294.7,107.1 295.4,108.4 296.2,109.0 297.0,109.9 298.2,110.4 299.2,109.9 300.1,111.3 301.1,110.8 302.3,112.4 303.1,112.9 304.0,113.0 304.9,114.3 305.9,115.5 306.8,115.7 307.7,116.9 308.5,117.5 309.3,118.2 310.4,119.4 311.2,120.9 311.9,121.6 312.7,122.3 313.5,123.5 314.1,124.5 314.6,125.6 315.1,126.7 315.6,127.2 316.1,129.2 316.6,129.8 317.2,130.2 317.9,132.4 318.7,132.9 319.6,134.0 320.5,134.8 321.4,135.3 322.3,136.5 323.1,137.3 324.0,138.7 324.5,139.4 325.0,140.6 325.5,141.4 325.9,142.9 326.3,144.6 326.7,145.7 327.1,146.7 327.5,147.3 328.0,149.3 328.4,150.7 328.8,152.4 329.3,152.1 329.8,153.9 330.2,155.0 330.7,156.6 331.1,157.0 331.5,158.1 331.9,160.2 332.4,160.9 332.8,160.9 333.2,162.6 333.6,164.4 334.1,165.2 334.6,167.0 334.9,168.0 335.2,168.5 335.5,169.8 335.8,171.6 336.1,172.8 336.4,173.4 336.7,175.1 337.0,175.6 337.3,177.1 337.6,178.2 337.9,178.9 338.2,180.7 338.5,181.7 338.7,182.0 339.0,183.8 339.3,185.1 339.6,186.3 339.8,187.5 340.1,188.9 340.4,189.6 340.6,192.1 340.9,193.2 341.1,194.5 341.3,195.6 341.6,196.9 341.8,198.0 342.0,198.9 342.2,199.9 342.3,201.6 342.5,203.2 342.7,204.1 342.9,205.6 343.1,205.7 343.3,207.0 343.7,208.5 344.0,210.6 344.2,212.1 344.5,212.5 344.8,213.9 345.0,214.6 345.3,215.4 345.5,216.8 345.7,217.7 346.0,220.0 346.1,220.9 346.3,222.4 346.4,223.4 346.5,223.7 346.6,226.1 346.7,227.3 346.8,227.7 346.9,229.7 347.1,231.4 347.2,232.7 347.3,232.7 347.5,234.0 347.7,234.5 348.5,234.7 349.4,233.4 350.3,232.2 351.2,232.0 351.6,232.6 352.0,233.2 352.4,234.0 352.8,236.2 353.1,237.7 353.4,238.4 353.6,239.6 353.9,240.8 354.1,241.0 354.2,242.7 354.3,244.3 354.4,244.6 354.6,245.1 354.7,247.2 354.9,247.8 355.1,249.1 355.3,250.4 355.4,251.8 355.5,252.5 355.7,254.1 355.8,255.7 356.0,258.2 356.1,259.4 356.3,261.1 356.5,261.1 356.6,262.2 356.8,263.3 357.1,262.4 357.3,261.3 357.6,260.6 357.8,259.5 358.1,258.2 358.4,257.1 358.6,255.6 358.9,254.2 359.1,252.6 359.4,250.7 359.7,249.2 359.9,247.5 360.1,247.2 360.3,246.2 360.6,244.6 360.9,243.2 361.5,242.5 362.2,242.0 362.9,241.2 363.5,239.2 363.7,238.8 363.9,237.6 364.1,236.9 364.2,235.7 364.4,234.5 364.5,232.9 364.7,232.3 364.9,230.9 365.0,229.9 365.3,228.6 365.6,227.3 365.9,226.1 366.2,224.6 366.5,223.3 366.9,222.6 367.2,222.2 367.5,221.2 367.9,219.6 368.1,218.5 368.3,218.1 368.5,216.3 368.7,214.7 368.9,213.6 369.1,212.9 369.3,212.3 369.5,211.1 369.7,209.5 370.0,208.6 370.2,206.9 370.5,205.2 370.8,204.1 371.0,203.4 371.3,202.4 371.5,200.6 371.8,199.3 372.0,198.6 372.3,198.2 372.5,196.0 372.8,194.6 373.1,193.9 373.4,192.8 373.7,191.2 374.0,190.1 374.3,189.0 374.6,186.9 374.9,186.0 375.2,185.1 375.5,184.1 375.8,183.0 376.1,181.4 376.3,179.6 376.6,179.3 376.9,178.1 377.2,176.4 377.5,175.7 377.8,174.6 378.1,173.1 378.4,171.0 378.6,170.4 378.9,169.3 379.2,168.1 379.6,167.2 379.9,165.8 380.2,165.2 380.6,164.4 381.0,162.0 381.3,161.4 381.7,159.7 382.1,158.9 382.4,157.6 382.8,157.0 383.2,155.2 383.5,154.6 383.9,153.1 384.3,152.4 384.6,151.3 385.0,150.7 385.4,148.8 386.0,147.3 386.6,147.1 387.1,145.7 387.7,145.0 388.2,143.0 388.7,142.3 389.2,141.6 389.7,141.1 390.2,139.7 390.7,138.6 391.5,137.6 392.2,136.3 392.7,135.2 393.4,135.0 394.2,133.4 395.2,132.8 396.2,133.0 397.3,131.8 398.4,131.2 399.5,131.0 400.6,130.9 401.7,130.3 402.7,129.5 403.8,129.4 404.7,130.0 406.0,130.3 407.0,131.0 408.2,131.7 409.1,131.3 409.9,130.8 410.8,128.6 411.7,127.5 412.6,126.5 413.5,126.2 414.9,125.8 416.1,126.8 417.4,125.7 418.8,126.3 419.4,125.3 420.0,124.5 420.6,123.8 421.1,122.6 421.7,121.0 422.2,120.7 422.8,119.4 423.4,118.0 424.0,117.4 425.1,116.0 426.2,115.4 427.2,115.4 428.2,115.5 429.3,115.1 430.4,114.4 431.4,113.7 432.4,113.1 433.5,114.2 434.6,114.1 435.5,114.1 436.3,115.6 437.2,116.4 438.0,117.1 438.9,117.8 439.8,119.0 441.1,118.9 442.3,119.0 443.6,118.1 445.1,117.7 446.1,118.0 447.1,118.5 448.1,119.5 449.1,120.3 450.1,121.0 451.1,121.4 452.1,121.1 453.3,121.0 454.4,120.1 455.3,119.7 456.3,118.2 457.4,117.6 458.5,117.0 459.5,116.7 460.5,116.5 461.5,116.8 462.6,115.6 463.5,114.4 464.3,113.9 465.1,113.5 466.0,112.7 466.9,111.9 467.9,112.0 469.0,111.4 470.1,110.7 471.2,110.9 472.3,110.0 473.6,110.4 474.9,110.5 475.8,111.3 476.8,112.4 477.7,112.4 478.6,113.8 479.5,113.7 480.5,115.2 481.5,114.8 482.6,115.5 483.7,116.5 484.9,116.2 486.0,116.2 487.3,116.0 488.5,115.7 489.7,115.2 490.8,114.5 492.0,114.3 493.1,114.2 494.2,113.5 495.7,113.7 496.9,114.0 498.0,112.6 499.0,112.6 500.1,112.4 501.2,112.1 502.3,111.6 503.3,110.6 504.4,110.0 505.4,109.3 506.3,108.6 507.3,108.6 508.2,107.9 509.5,107.2 510.5,107.4 511.5,108.8 512.4,109.1 513.5,109.2 514.6,108.8 515.5,108.8 516.5,108.4 517.6,107.9 518.8,108.1 519.8,108.9 520.8,109.4 521.8,110.0 522.9,110.4 523.9,110.6 524.9,111.9 525.8,112.7 527.1,112.9 528.0,112.7 528.9,112.2 530.0,112.3 531.0,112.6 532.0,113.7 533.1,113.8 534.2,115.2 535.3,115.1 536.4,114.6 537.4,114.2 538.4,113.1 539.4,112.8 540.5,112.8 541.6,114.0 542.7,113.4 543.7,114.3 544.7,114.4 545.8,114.3 546.8,114.2 547.7,112.6 548.7,112.8 549.7,112.5 551.1,111.4 552.2,111.0 553.5,110.9 554.8,110.9 556.1,110.5 557.4,110.7 558.7,110.9 559.8,110.8 561.2,111.3 562.2,111.8 563.1,112.5 564.1,112.6 565.1,113.6 565.9,114.4 566.7,115.7 567.5,116.2 568.2,116.3 568.9,117.2 569.7,119.4 570.4,120.2 570.9,120.7 571.4,121.9 571.8,123.7 572.3,125.6 572.7,127.1 573.0,127.6 573.3,128.7 573.6,130.5 573.9,130.3 573.9,130.5 574.0,130.9 574.1,131.5 574.3,132.7 574.5,133.4 574.7,133.9 574.9,134.6 575.1,136.3 575.4,137.7 575.6,139.4 575.9,139.3 576.2,141.9 576.5,143.3 576.8,145.1 577.1,146.4 577.4,147.7 577.6,148.8 577.8,149.9 578.0,150.6 578.3,151.9 578.5,153.1 578.8,154.1 579.0,154.8 579.2,155.9 579.5,157.8 579.7,159.1 580.0,160.2 580.3,160.9 580.5,162.8 580.8,163.7 581.0,164.2 581.2,166.7 581.5,167.0 581.7,169.5 582.0,170.3 582.2,171.2 582.4,171.7 582.6,173.5 582.8,175.6 583.0,177.0 583.2,177.9 583.4,178.4 583.6,180.1 583.8,181.4 583.9,183.0 584.1,184.1 584.2,185.5 584.4,186.0 584.5,187.5 584.7,189.5 584.8,189.8 585.0,191.7 585.1,193.5 585.3,194.1 585.4,194.4 585.5,196.4 585.7,196.5 585.8,198.2 586.0,199.0 586.1,200.6 586.4,202.5 586.7,203.9 587.0,206.1 587.2,207.5 587.5,208.4 587.7,209.5 588.0,212.0 588.2,212.2 588.4,213.2 588.7,213.7 588.9,213.9 589.1,213.6 589.3,213.9 589.6,213.6 589.8,213.4 589.9,212.1 590.1,210.5 590.3,209.4 590.5,208.5 590.6,207.1 590.8,205.7 591.0,203.6 591.2,202.2 591.4,200.3 591.5,199.8 591.6,198.2 591.8,197.1 591.9,196.1 592.0,195.3 592.1,193.3 592.2,192.2 592.3,191.1 592.5,189.2 592.6,189.1 592.7,187.9 592.8,186.3 592.9,186.2 593.0,184.4 593.2,183.3 593.3,181.9 593.4,180.4 593.5,178.2 593.7,177.9 593.8,176.5 593.9,174.6 594.0,173.8 594.2,172.7 594.3,171.5 594.5,169.9 594.7,168.3 594.8,167.5 594.9,165.7 595.1,164.7 595.2,163.8 595.4,161.9 595.5,161.4 595.7,159.5 595.8,158.6 596.0,157.5 596.1,156.8 596.2,156.1 596.4,154.9 596.5,154.2 596.7,152.9 596.9,151.2 597.1,149.9 597.3,148.4 597.5,147.2 597.7,146.4 597.9,144.8 598.1,144.3 598.3,142.6 598.4,141.8 598.6,140.3 598.8,139.7 599.0,139.1 599.2,137.7 599.3,137.0 599.5,135.2 599.6,134.3 599.9,133.8 600.2,132.6 600.4,131.6 600.7,129.6 600.9,129.2 601.2,127.9 601.5,126.8 601.8,125.7 602.2,124.3 602.5,122.6 602.9,121.6 603.3,120.4 603.7,119.4 604.3,118.6 604.9,117.9 605.5,116.2 606.1,115.0 606.8,113.9 607.5,112.9 608.2,112.7 608.9,111.9 610.2,111.3 611.4,110.7 612.7,111.1 613.9,110.4 615.1,110.5 615.9,109.4 616.6,109.1 617.2,107.6 617.8,107.1 618.6,106.2 619.5,105.1 620.4,105.0 621.3,103.8 622.2,102.7 623.2,102.6 624.2,101.5 625.3,101.0 626.5,100.7 627.6,100.3 628.7,100.5 629.8,98.9 630.9,98.9 632.0,99.2 633.1,98.5 634.2,98.4 635.3,98.7 636.6,97.4 637.8,97.6 638.9,97.8 640.0,97.2 641.1,96.8 642.3,97.1 643.5,97.8 644.7,98.1 645.9,99.2 647.1,99.5 648.2,98.9 649.3,100.1 650.5,100.9 651.5,101.9 652.4,102.0 653.4,102.2 654.6,102.5 655.5,102.8 656.5,102.0 657.5,101.7 658.5,100.6 659.5,99.3 660.5,98.3 661.6,98.7 662.8,97.0 664.0,96.7 665.1,96.3 666.2,95.7 667.4,95.4 668.6,95.4 669.8,96.1 670.9,95.3 672.0,95.1 673.1,95.4 674.3,95.8 675.6,95.2 676.8,95.3 678.0,94.8 679.2,95.6 680.4,95.8 681.6,96.1 683.0,95.1 684.4,96.2 685.5,95.8 686.7,95.2 687.8,95.0 689.0,94.9 690.1,94.4 691.3,95.0 692.5,94.5 693.7,94.3 694.9,94.7 696.2,94.6 697.4,94.4 698.6,94.6 699.7,94.6 700.9,95.3 702.0,95.4 703.1,94.9 704.3,95.2 705.4,95.9 706.9,95.7 708.1,96.7 709.4,96.6 710.5,97.0 711.7,96.3 712.9,97.4 714.2,97.3 715.4,97.3 716.5,97.0 717.6,96.7 718.7,95.9 719.8,95.9 720.9,95.3 721.9,94.5 723.0,94.1 724.3,94.2 725.5,94.1 726.6,93.0 727.7,92.7 728.8,93.8 730.0,93.7 731.3,95.0 732.5,93.9 733.8,94.7 735.0,95.1 736.0,96.1 737.0,96.9 738.2,97.6 738.9,97.1 740.0,98.0 741.0,97.1 742.2,97.4 743.5,97.1 744.7,97.1 745.8,96.6 747.1,97.4 748.1,97.3 749.1,97.7 750.2,98.2 751.2,98.4 752.1,99.6 753.0,100.2 753.8,101.1 754.5,102.7 754.9,102.8 755.3,103.9 755.5,105.2 755.8,106.7 756.0,107.6 756.2,109.2 756.5,110.2 756.9,110.7 757.2,112.4 757.6,113.3 757.9,115.0 758.3,115.8 758.7,116.5 759.1,116.1 759.5,115.2 759.9,114.5 760.2,113.0 760.6,110.9 761.0,109.7 761.4,108.9 761.7,108.3 762.0,106.5 762.3,105.3 762.6,104.3 763.0,103.3 763.5,101.9 763.9,100.9 764.4,99.6 764.9,98.5 765.5,97.5 766.0,97.2 766.7,95.8 767.4,95.4 768.2,94.8 769.2,94.3 770.2,92.4 771.3,92.2 772.5,91.6 773.7,91.5 775.1,91.6 776.3,92.1 777.4,91.7 778.6,91.6 779.8,91.3 781.1,90.9 782.4,91.2 783.7,90.1 784.9,91.1 786.0,90.8 787.2,90.9 788.4,90.2 789.7,89.8 791.0,89.6 792.2,89.5 793.3,89.2 794.5,88.5 795.7,88.3 797.0,88.0 798.3,87.0 799.5,87.0 800.6,86.2 801.8,86.2 803.0,86.5 804.3,85.7 805.6,86.2 806.8,85.6 808.0,85.4 809.1,84.9 810.3,84.9 811.6,84.9 812.9,84.4 814.2,84.1 815.5,84.0 816.7,85.0 817.8,84.4 818.9,84.3 820.3,84.3 821.3,84.1 822.2,84.8 823.3,85.5 824.4,85.8 825.4,86.3 826.4,87.2 827.7,87.5 828.8,87.0 829.9,86.8 831.1,85.8 832.3,85.9 833.5,84.8 834.7,84.6 835.9,84.6 837.0,84.1 838.2,83.6 839.4,84.4 840.6,83.9 841.7,82.3 842.9,82.4 844.0,81.5 845.2,81.5 846.4,80.6 847.6,80.7 848.7,80.4 849.9,80.5 851.1,80.1 852.3,79.4 853.4,79.9 854.5,79.6 855.7,79.9 856.9,79.8 858.1,79.4 859.3,80.2 860.5,79.4 861.6,79.9 862.8,80.2 864.2,80.0 865.6,79.2 866.7,79.4 867.6,79.8" stroke="#5c9e10" stroke-width="2.35"/>
<path d="M97.4,30.9 98.1,31.4 99.0,30.4 100.2,31.3 101.4,31.4 102.7,32.2 104.0,31.7 105.2,32.5 106.3,33.4 107.4,33.4 108.6,33.9 109.7,34.1 110.8,35.1 111.9,34.5 113.3,34.4 114.5,34.4 115.6,33.9 116.8,34.4 118.1,33.4 119.2,32.5 120.2,32.6 121.3,32.2 122.4,31.8 123.6,31.5 125.1,31.6 126.2,31.1 127.3,31.1 128.4,31.7 129.5,31.7 130.7,32.7 131.9,33.6 133.1,33.7 134.4,33.7 135.6,33.8 136.9,33.6 138.1,33.5 139.3,34.3 140.5,33.7 141.7,34.4 142.8,34.4 144.0,34.8 145.1,34.8 146.1,35.0 147.6,35.1 148.8,35.2 149.9,36.3 150.9,37.3 152.0,37.8 153.2,38.1 154.4,37.1 155.5,36.5 156.7,36.5 157.8,35.5 159.0,36.0 160.2,34.8 161.3,33.7 162.3,33.6 163.3,34.2 164.4,32.9 165.6,33.3 167.2,32.6 168.3,33.6 169.4,32.9 170.7,32.6 171.9,32.2 173.2,32.5 174.5,31.9 175.8,32.6 177.1,33.7 178.3,33.2 179.5,33.1 180.8,32.9 182.0,33.7 183.2,33.8 184.2,34.0 185.2,35.2 186.2,35.3 187.2,35.2 188.2,36.3 189.6,36.3 190.8,36.8 191.9,37.1 193.0,37.8 194.1,37.8 195.3,37.5 196.5,37.6 197.6,36.8 198.8,36.4 199.9,36.4 201.1,35.0 202.3,34.5 203.5,34.5 204.7,34.4 205.8,35.1 206.9,34.1 208.1,35.5 209.3,35.6 210.5,35.0 211.7,35.4 212.8,35.4 213.9,36.1 215.1,36.5 216.3,37.0 217.4,37.4 218.4,38.3 219.4,38.0 220.4,38.7 221.4,39.0 222.4,39.6 223.3,40.3 224.4,41.0 225.3,42.1 226.1,42.7 226.9,43.8 227.7,44.4 228.6,44.6 229.7,44.9 230.8,44.7 231.9,44.3 232.9,43.3 233.9,43.5 235.1,43.5 236.0,44.1 237.4,44.6 238.3,44.6 239.4,43.9 240.5,42.9 241.7,42.2 243.0,42.3 244.4,40.9 245.6,41.5 246.9,40.5 248.1,40.5 249.4,40.7 250.7,40.7 251.9,41.5 253.2,41.3 254.3,41.4 255.3,42.1 256.2,42.2 257.1,42.3 258.0,43.6 259.0,44.5 260.2,45.1 261.1,44.8 262.1,46.5 263.0,46.4 264.0,47.5 264.9,48.4 265.9,49.6 266.9,48.9 267.9,49.6 268.9,51.1 270.1,51.7 271.3,52.0 272.4,51.7 273.6,53.4 274.7,53.9 275.7,53.5 276.7,55.7 277.7,54.3 279.1,54.8 280.1,54.6 281.0,54.2 282.0,53.9 283.0,53.3 284.0,53.1 285.0,53.4 286.0,53.1 287.0,53.9 288.2,55.7 289.2,55.4 290.2,56.0 291.1,57.3 292.1,57.7 293.2,58.1 294.2,59.3 295.3,60.3 295.8,60.8 296.4,62.3 296.9,63.0 297.5,64.4 298.0,64.8 298.5,65.6 299.0,66.9 299.6,67.9 300.1,69.0 300.6,70.0 301.2,71.7 301.7,73.1 302.3,75.1 302.7,75.6 303.1,75.9 303.5,77.8 303.9,79.8 304.3,80.1 304.7,81.0 305.1,82.4 305.5,82.7 305.9,84.7 306.2,86.2 306.6,86.9 307.0,88.8 307.4,89.6 307.8,90.4 308.1,91.9 308.5,93.5 308.9,95.2 309.3,96.0 309.9,97.1 310.5,98.1 311.0,99.3 311.5,100.8 312.0,101.2 312.5,102.4 313.0,103.6 313.5,103.8 314.1,104.9 314.7,106.5 315.3,107.7 315.7,108.7 316.2,109.6 316.6,110.9 317.1,112.8 317.5,114.0 318.0,114.1 318.5,115.7 318.9,117.0 319.4,118.2 319.8,118.9 320.3,120.4 320.7,121.6 321.1,122.4 321.5,123.7 321.9,123.6 322.3,124.6 323.3,126.8 324.0,127.6 324.6,127.7 325.1,128.2 325.8,130.0 326.0,131.2 326.3,132.1 326.5,132.6 326.7,133.4 326.9,134.9 327.1,135.9 327.3,137.1 327.5,137.9 327.7,138.8 328.0,140.4 328.2,141.5 328.4,143.5 328.7,144.9 329.0,145.2 329.3,147.7 329.5,149.1 329.7,150.2 330.0,150.8 330.2,151.7 330.4,153.5 330.7,154.8 330.9,155.6 331.2,156.3 331.4,157.3 331.7,159.1 331.9,160.0 332.2,161.3 332.4,162.9 332.7,164.4 332.9,164.6 333.2,166.2 333.4,168.2 333.7,169.0 333.9,170.1 334.1,171.7 334.3,172.3 334.6,173.3 334.8,175.2 335.0,177.2 335.2,178.4 335.5,179.3 335.6,180.9 335.8,181.7 336.0,182.6 336.2,183.5 336.4,185.4 336.5,187.0 336.7,188.0 336.8,189.0 337.0,189.9 337.2,191.6 337.3,192.4 337.5,192.9 337.7,194.9 337.9,195.4 338.1,196.8 338.4,198.3 338.6,200.2 338.9,201.6 339.2,203.5 339.5,204.6 339.7,205.7 340.0,207.0 340.3,208.6 340.5,209.1 340.8,210.6 341.1,210.9 341.3,211.0 341.6,211.2 341.9,211.4 342.1,211.6 342.4,210.5 342.6,209.1 342.8,207.5 343.1,207.0 343.3,204.8 343.5,203.1 343.7,201.3 344.0,200.4 344.2,198.6 344.4,197.1 344.6,196.2 344.8,194.7 344.9,193.5 345.1,192.8 345.3,190.7 345.4,191.0 345.6,190.4 345.8,188.1 346.0,187.0 346.3,185.1 346.5,184.2 346.8,182.7 347.1,181.9 347.3,180.0 347.5,179.1 347.7,178.0 348.0,177.0 348.2,176.7 348.5,174.8 348.7,173.5 349.0,172.1 349.3,171.3 349.5,170.9 349.8,169.2 350.1,168.1 350.4,165.9 350.6,165.3 350.9,163.8 351.1,163.1 351.4,161.9 351.6,160.6 351.9,158.6 352.1,158.0 352.4,156.4 352.7,155.4 353.0,153.9 353.2,153.1 353.5,150.9 353.7,150.0 353.9,149.1 354.1,148.2 354.4,146.9 354.6,146.0 354.8,145.0 355.0,144.3 355.2,142.8 355.4,141.8 355.6,139.9 355.9,138.1 356.1,137.3 356.3,136.8 356.4,134.8 356.6,134.6 356.8,133.5 357.0,132.5 357.1,131.1 357.3,130.1 357.5,129.4 357.7,128.1 358.0,126.7 358.2,125.1 358.5,124.1 358.7,123.4 359.0,121.8 359.2,120.4 359.5,118.8 359.8,118.1 360.0,116.5 360.3,115.1 360.6,114.7 360.9,113.0 361.2,111.2 361.5,110.4 361.7,110.2 362.0,108.4 362.3,106.7 362.6,105.5 363.0,104.8 363.3,103.5 363.6,102.1 363.9,100.7 364.2,99.7 364.5,99.0 364.8,97.5 365.1,96.1 365.4,94.5 365.7,94.1 366.0,93.6 366.4,92.3 366.7,90.7 367.0,90.2 367.7,89.1 368.3,87.3 368.9,86.7 369.4,86.2 370.1,85.7 370.7,83.7 371.4,82.4 372.0,82.2 372.6,81.3 373.2,79.9 373.9,78.9 374.5,77.7 375.2,77.3 375.9,75.3 376.7,75.2 377.8,74.0 379.0,73.8 380.2,73.2 381.4,73.2 382.6,73.2 383.7,72.6 384.6,72.6 385.4,71.0 386.1,70.2 386.8,69.3 387.5,68.3 388.2,67.9 388.9,66.6 390.0,65.7 391.1,65.0 392.1,64.5 393.1,63.9 394.2,63.4 395.0,62.2 395.7,61.2 396.3,60.2 397.0,59.5 397.7,58.0 398.5,57.4 399.5,55.8 400.3,55.3 401.1,54.9 402.0,53.3 402.9,52.2 403.8,50.8 404.7,50.6 405.6,49.8 406.5,49.6 407.4,48.8 408.6,49.2 409.7,50.4 410.7,50.9 411.6,51.7 412.6,52.2 413.5,53.3 414.7,53.7 415.7,53.4 416.7,52.5 417.9,52.5 418.9,53.1 419.9,53.8 420.9,55.0 422.0,56.2 423.0,57.6 424.0,57.6 425.5,58.1 426.7,56.7 428.0,57.4 429.3,57.2 430.4,57.5 431.4,58.3 432.4,58.9 433.5,59.8 434.6,59.4 435.3,57.8 436.0,56.9 436.6,57.1 437.2,55.6 437.9,54.9 438.8,53.3 439.8,52.2 440.8,51.7 441.8,51.4 442.9,50.8 444.0,50.0 445.2,49.9 446.3,49.6 447.4,48.8 448.5,48.5 449.5,48.1 450.7,49.0 451.7,49.7 452.6,50.3 453.5,51.2 454.4,52.3 455.6,53.3 456.5,54.1 457.4,54.9 458.3,55.3 459.2,56.2 460.2,56.1 461.2,57.2 462.2,57.8 463.3,57.9 464.4,58.6 465.4,59.7 466.5,60.4 467.5,60.7 468.6,61.7 469.6,63.2 470.7,63.8 471.8,64.1 472.8,65.0 473.9,64.4 474.9,64.6 475.9,64.9 476.9,64.0 477.7,62.9 478.6,62.7 479.4,62.3 480.2,59.8 481.1,59.7 481.9,58.4 482.8,57.8 483.7,56.8 484.8,57.6 485.9,56.0 487.0,55.5 488.1,54.8 489.1,54.3 490.2,54.2 491.3,54.3 492.5,54.9 493.6,54.5 494.7,55.0 495.8,54.4 496.8,55.0 497.9,55.3 499.0,55.4 500.1,58.0 501.2,57.5 502.2,58.1 503.1,58.5 504.0,59.3 504.9,60.0 505.7,61.6 506.6,62.1 507.4,63.0 508.3,63.9 509.1,64.2 510.0,65.3 511.3,66.1 512.5,67.0 513.6,67.3 514.7,67.8 515.8,68.3 517.0,68.6 518.3,68.0 519.4,68.3 520.6,67.3 521.7,67.1 522.9,66.8 524.0,66.6 525.3,65.3 526.5,65.4 527.6,65.6 528.7,66.1 530.0,65.7 531.0,66.8 531.9,66.1 532.9,67.1 533.9,68.0 534.9,68.5 535.9,69.3 537.0,70.4 537.9,70.4 538.8,71.5 539.7,72.3 540.6,72.5 541.5,72.4 542.3,73.4 543.2,74.5 544.1,75.4 544.9,77.1 545.5,77.6 546.1,79.8 546.6,80.2 547.2,80.4 547.7,81.7 548.2,83.4 548.6,84.3 549.1,84.8 549.6,86.6 550.1,87.4 550.5,89.6 551.1,90.1 551.5,91.5 551.9,92.6 552.2,93.4 552.6,94.6 553.0,96.2 553.3,97.2 553.7,98.1 554.0,99.4 554.4,101.1 554.7,102.0 555.0,103.0 555.4,104.2 555.7,104.7 556.0,106.4 556.3,107.5 556.6,109.2 556.9,110.1 557.2,111.7 557.5,112.5 557.7,114.5 558.0,115.2 558.2,116.7 558.4,118.2 558.7,119.1 558.9,120.3 559.1,121.8 559.3,123.2 559.5,122.9 559.6,124.0 559.8,125.5 560.3,127.5 560.6,127.5 560.8,128.1 561.2,129.9 561.4,131.7 561.6,131.7 561.7,132.2 561.9,132.9 562.1,134.0 562.3,136.0 562.5,136.7 562.7,138.6 563.0,139.5 563.2,140.6 563.4,142.0 563.6,143.4 563.8,144.9 564.0,145.7 564.2,147.3 564.3,148.4 564.5,149.7 564.6,150.7 564.7,151.3 564.9,152.6 565.0,154.6 565.1,155.9 565.2,156.0 565.4,157.4 565.5,158.4 565.6,159.2 565.7,160.9 565.8,161.9 565.9,163.7 566.0,164.6 566.2,165.5 566.3,165.8 566.4,168.0 566.5,169.8 566.6,170.7 566.7,172.7 566.8,174.2 566.9,174.4 567.0,176.0 567.1,177.4 567.2,178.8 567.3,179.8 567.4,180.9 567.4,181.9 567.5,183.1 567.6,184.4 567.7,185.2 567.8,187.0 567.8,187.9 567.9,189.4 568.0,190.3 568.1,191.8 568.1,193.0 568.2,194.5 568.3,195.6 568.4,197.0 568.4,197.8 568.5,199.0 568.6,200.2 568.6,201.1 568.7,202.7 568.7,204.4 568.8,205.6 568.8,206.2 568.9,207.8 568.9,209.2 569.0,209.8 569.0,211.7 569.1,213.1 569.1,214.6 569.1,215.8 569.2,216.3 569.2,217.3 569.2,220.1 569.2,220.6 569.2,222.4 569.3,223.7 569.3,224.5 569.3,225.1 569.3,227.2 569.3,227.9 569.3,229.2 569.3,230.4 569.3,231.7 569.3,232.9 569.3,233.1 569.3,234.1 569.4,235.7 569.4,236.8 569.4,238.2 569.4,238.9 569.5,239.9 569.5,242.4 569.6,243.8 569.7,245.1 569.7,246.3 569.8,246.9 569.9,248.2 570.0,249.3 570.0,250.0 570.1,251.1 570.2,252.5 570.3,253.1 570.4,254.8 570.4,255.9 570.5,256.8 570.6,257.9 570.7,259.5 570.8,260.9 570.9,262.3 571.0,263.2 571.1,264.6 571.1,267.5 571.2,268.3 571.3,269.9 571.4,270.8 571.5,272.6 571.6,274.0 571.7,275.8 571.8,275.6 571.8,276.7 571.9,277.8 572.0,278.2 572.1,278.3 572.2,278.2 572.3,277.4 572.4,277.4 572.4,277.0 572.5,275.6 572.6,274.1 572.7,273.4 572.7,271.8 572.8,269.7 572.9,268.2 573.0,266.6 573.0,265.2 573.1,264.1 573.2,261.9 573.3,260.6 573.3,259.3 573.4,257.6 573.5,256.6 573.6,255.9 573.6,255.1 573.7,252.9 573.8,252.7 573.9,251.4 573.9,250.9 574.0,249.7 574.1,249.0 574.1,247.3 574.2,245.7 574.2,244.2 574.3,242.6 574.3,241.8 574.4,240.2 574.4,239.3 574.4,238.1 574.5,236.3 574.5,235.5 574.5,234.5 574.5,233.6 574.5,232.7 574.5,231.9 574.5,230.4 574.5,228.3 574.5,227.4 574.5,225.8 574.5,225.1 574.5,223.8 574.5,223.2 574.5,221.8 574.5,221.1 574.5,219.9 574.6,218.1 574.6,217.2 574.6,215.7 574.6,214.5 574.6,213.5 574.7,211.3 574.7,210.2 574.7,209.5 574.8,207.5 574.8,206.5 574.9,205.3 574.9,203.9 575.0,202.3 575.0,201.2 575.1,199.9 575.1,199.4 575.2,198.0 575.2,196.9 575.3,195.0 575.4,194.3 575.4,193.0 575.5,192.1 575.6,190.3 575.6,189.5 575.7,188.6 575.8,187.6 575.8,185.4 575.9,184.0 576.0,182.6 576.0,182.3 576.1,181.1 576.2,179.8 576.2,178.2 576.3,177.7 576.4,176.8 576.4,175.1 576.5,173.8 576.6,172.8 576.7,171.2 576.7,170.2 576.8,168.3 576.9,167.2 577.0,165.8 577.0,164.5 577.1,163.5 577.2,162.4 577.2,161.6 577.3,160.2 577.4,159.3 577.5,157.9 577.5,156.6 577.6,156.5 577.7,154.6 577.8,154.4 577.9,153.0 577.9,150.6 578.0,149.8 578.1,148.7 578.2,147.5 578.3,146.3 578.4,144.9 578.5,144.3 578.6,142.7 578.7,141.8 578.8,140.0 578.9,138.7 579.0,138.2 579.1,136.5 579.2,134.9 579.3,134.0 579.4,133.3 579.5,131.7 579.6,130.2 579.7,129.5 579.8,128.5 579.9,127.0 580.0,125.7 580.1,124.5 580.3,124.6 580.4,122.5 580.5,122.0 580.6,120.4 580.7,119.4 580.9,117.5 581.1,116.6 581.3,115.1 581.5,113.6 581.7,112.2 581.9,110.5 582.1,109.2 582.3,108.7 582.6,107.4 582.8,106.6 583.0,105.5 583.3,104.4 583.5,103.4 583.8,103.3 584.1,101.4 584.4,100.5 584.9,99.1 585.4,97.5 585.9,96.4 586.4,96.0 586.9,95.1 587.4,93.9 588.0,94.1 588.5,92.5 589.1,91.6 589.6,90.0 590.4,89.3 591.1,88.5 591.8,86.8 592.5,86.7 593.2,84.9 594.0,83.7 594.9,83.1 595.7,81.9 596.5,81.5 597.3,80.0 598.1,79.4 598.9,77.9 599.8,77.6 600.8,77.3 601.9,76.1 602.9,75.6 603.9,75.4 605.0,74.0 606.1,73.3 607.2,73.2 608.3,72.9 609.4,72.4 610.5,71.8 611.5,72.3 612.5,71.4 613.9,71.6 615.0,71.9 616.1,72.6 617.1,72.7 618.2,73.2 619.5,75.1 620.4,74.8 621.3,76.0 622.3,76.5 623.2,77.1 624.2,78.1 625.1,78.9 626.1,80.0 627.2,79.7 628.2,81.3 629.3,82.1 630.4,82.5 631.5,83.3 632.6,85.0 633.7,85.6 634.7,85.7 635.8,85.9 636.8,86.0 637.9,86.8 639.2,86.3 640.3,85.9 641.4,86.1 642.4,85.1 643.5,84.6 644.6,84.9 645.8,83.5 646.9,83.6 648.0,83.4 649.1,83.1 650.1,82.1 651.2,82.1 652.3,81.9 653.4,82.5 654.6,82.2 655.9,81.5 657.2,82.1 658.4,82.2 659.7,82.2 660.9,82.4 662.1,82.8 663.3,82.9 664.3,83.8 665.3,85.2 666.1,86.3 667.0,87.4 667.8,87.6 668.6,88.7 669.4,88.5 670.4,89.9 671.4,90.5 672.3,92.1 673.3,92.0 674.2,92.8 675.2,93.4 676.2,94.4 677.4,94.9 678.6,94.3 679.7,95.1 680.8,94.4 682.0,93.6 683.2,93.5 684.6,93.1 686.1,93.1 687.3,92.8 688.5,93.3 689.8,92.8 691.1,91.9 692.4,92.2 693.7,92.1 695.0,91.4 696.2,91.3 697.3,91.4 698.4,91.0 699.8,92.5 700.8,92.9 701.7,94.1 702.6,94.4 703.4,95.4 704.3,96.6 705.4,97.6 706.4,98.1 707.3,98.3 708.3,100.2 709.2,100.6 710.2,101.5 711.2,102.3 712.2,102.9 713.2,103.1 714.2,103.5 715.5,104.0 716.7,103.4 717.9,104.2 719.1,103.6 720.3,104.0 721.6,103.6 723.0,104.4 724.2,104.3 725.4,105.6 726.7,105.2 727.9,105.5 729.2,105.3 730.4,105.9 731.5,106.4 732.6,106.8 733.5,107.2 734.7,107.7 735.6,109.0 736.2,109.3 736.8,110.0 737.3,111.5 737.9,112.7 738.2,113.8 738.5,114.8 738.7,115.8 739.0,117.2 739.2,118.3 739.4,119.4 739.6,121.3 739.8,122.4 740.0,123.2 740.2,124.7 740.4,126.1 740.5,127.2 740.8,128.8 741.1,130.0 741.2,131.0 741.4,131.5 741.6,132.3 741.8,134.0 741.9,135.1 742.1,136.8 742.3,138.7 742.4,140.4 742.6,141.9 742.7,142.1 742.9,142.4 743.1,142.4 743.3,140.8 743.4,139.4 743.6,138.4 743.8,136.4 743.9,134.7 744.1,134.1 744.3,132.7 744.5,132.0 744.8,130.7 745.1,129.3 745.4,128.3 745.6,127.3 745.9,125.3 746.2,124.4 746.6,123.7 746.9,122.2 747.3,121.4 748.0,120.1 748.7,119.3 749.5,118.3 750.2,117.3 751.2,118.0 752.0,116.6 753.2,117.4 754.1,116.4 755.1,117.3 756.3,117.8 757.5,119.2 758.6,119.9 759.8,120.1 760.9,120.0 762.1,120.5 763.4,121.1 764.6,121.6 765.7,122.3 766.9,122.3 768.0,122.8 769.2,123.9 770.5,124.4 771.7,123.7 772.9,124.4 774.1,125.1 775.1,126.3 776.3,126.5 777.2,127.8 778.0,127.5 779.0,126.9 780.2,125.3 781.0,125.8 782.0,127.2 782.9,128.0 783.8,127.6 785.3,127.8 786.8,127.7 787.8,128.3 788.9,128.5 790.0,130.0 791.1,130.3 792.1,131.4 792.9,131.8 793.8,132.4 794.6,133.0 795.5,133.4 796.7,135.0 797.8,135.8 798.9,136.6 799.9,136.7 801.4,136.4 802.8,136.9 803.6,137.6 804.5,138.6 805.4,140.1 806.3,140.5 807.2,141.7 808.2,143.1 809.1,144.1 810.0,145.5 810.8,145.8 811.6,146.0 812.4,147.0 812.9,148.0 813.8,148.9 814.9,149.0 816.2,148.7 817.6,148.2 818.9,148.4 820.1,148.9 821.3,149.8 822.3,150.3 823.3,150.4 824.3,150.0 825.2,150.4 826.2,150.0 827.0,150.4 827.8,151.3 828.7,152.7 829.6,153.2 830.6,153.9 831.9,154.0 833.1,154.2 834.4,153.5 835.7,154.3 836.6,155.4 837.5,156.5 838.3,157.4 839.2,158.3 840.0,159.8 840.8,160.5 842.1,161.6 843.2,161.2 844.2,161.7 845.2,163.3 845.8,164.0 846.3,165.1 846.7,166.2 847.2,168.3 847.6,168.5 848.1,169.6 849.3,169.5 850.5,169.4 851.8,170.5 852.6,171.3 853.3,171.0 854.0,171.7 854.7,173.6 855.4,173.8 856.2,174.3 857.0,175.9 857.8,176.4 858.5,177.0 859.1,178.7 859.9,179.9 860.6,180.5 861.4,180.2 862.3,178.9 863.5,178.5 864.6,178.2 865.7,179.1 866.8,179.4 867.6,179.9" stroke="#28b0f0" stroke-width="2.35"/>
</g>
<g font-size="27" text-anchor="end">
<text x="88.4" y="23.2">-50</text>
<text x="88.4" y="138.6">-60</text>
<text x="88.4" y="254.0">-70</text>
<text x="88.4" y="369.3">-80</text>
<text x="88.4" y="484.7">-90</text>
<text x="88.4" y="600.1">-100</text>
</g>
<g font-size="27" text-anchor="middle">
<text x="97.9" y="626.1">1572.5</text>
<text x="207.8" y="626.1">1575</text>
<text x="317.8" y="626.1">1577.5</text>
<text x="427.7" y="626.1">1580</text>
<text x="537.7" y="626.1">1582.5</text>
<text x="647.6" y="626.1">1585</text>
<text x="757.6" y="626.1">1587.5</text>
<text x="867.5" y="626.1">1590</text>
</g>
<text x="482.8" y="660.6" font-size="27.5" text-anchor="middle">Wavelength (nm)</text>
<text transform="translate(23.2,302) rotate(-90)" font-size="27.1" text-anchor="middle">Optical Power (dBm)</text>
<text x="3.6" y="669.6" font-size="42" font-weight="bold">a)</text>
<line x1="336.3" y1="396.4" x2="588" y2="396.4" stroke="#000" stroke-width="3.2" stroke-dasharray="8.7 3.4"/>
<path d="M586.6,391.9 L596,396.4 L586.6,400.9 Z" fill="#000"/>
<text x="475.3" y="384.2" font-size="37.5">Shift</text>
<rect x="668" y="331.6" width="184.6" height="193.2" fill="#fff" stroke="#2b2b2b" stroke-width="1.2"/>
<line x1="672.6" y1="349.9" x2="702" y2="349.9" stroke="#ff00ff" stroke-width="2.9"/>
<text x="705" y="358.5" font-size="24">25% Sucrose</text>
<line x1="672.6" y1="381.1" x2="702" y2="381.1" stroke="#d4400a" stroke-width="2.9"/>
<text x="705" y="389.7" font-size="24">20% Sucrose</text>
<line x1="672.6" y1="413.0" x2="702" y2="413.0" stroke="#f0a30a" stroke-width="2.9"/>
<text x="705" y="421.6" font-size="24">15% Sucrose</text>
<line x1="672.6" y1="444.6" x2="702" y2="444.6" stroke="#6c1487" stroke-width="2.9"/>
<text x="705" y="453.2" font-size="24">10% Sucrose</text>
<line x1="672.6" y1="476.2" x2="702" y2="476.2" stroke="#5c9e10" stroke-width="2.9"/>
<text x="705" y="484.8" font-size="24">5% Sucrose</text>
<line x1="672.6" y1="507.8" x2="702" y2="507.8" stroke="#28b0f0" stroke-width="2.9"/>
<text x="705" y="516.4" font-size="24">0% Sucrose</text>
</g>
<g id="pb">
<g stroke="#262626" stroke-opacity="0.155" stroke-width="1.2">
<line x1="1163.17" y1="12.0" x2="1163.17" y2="587.2"/>
<line x1="1290.83" y1="12.0" x2="1290.83" y2="587.2"/>
<line x1="1418.50" y1="12.0" x2="1418.50" y2="587.2"/>
<line x1="1546.17" y1="12.0" x2="1546.17" y2="587.2"/>
<line x1="1673.83" y1="12.0" x2="1673.83" y2="587.2"/>
<line x1="1035.5" y1="94.17" x2="1801.5" y2="94.17"/>
<line x1="1035.5" y1="176.34" x2="1801.5" y2="176.34"/>
<line x1="1035.5" y1="258.51" x2="1801.5" y2="258.51"/>
<line x1="1035.5" y1="340.69" x2="1801.5" y2="340.69"/>
<line x1="1035.5" y1="422.86" x2="1801.5" y2="422.86"/>
<line x1="1035.5" y1="505.03" x2="1801.5" y2="505.03"/>
</g>
<g stroke="#2b2b2b" stroke-width="1.5" fill="none">
<rect x="1035.5" y="12.0" width="766.0" height="575.2"/>
<line x1="1163.17" y1="587.2" x2="1163.17" y2="580.2"/><line x1="1163.17" y1="12.0" x2="1163.17" y2="19.0"/>
<line x1="1290.83" y1="587.2" x2="1290.83" y2="580.2"/><line x1="1290.83" y1="12.0" x2="1290.83" y2="19.0"/>
<line x1="1418.50" y1="587.2" x2="1418.50" y2="580.2"/><line x1="1418.50" y1="12.0" x2="1418.50" y2="19.0"/>
<line x1="1546.17" y1="587.2" x2="1546.17" y2="580.2"/><line x1="1546.17" y1="12.0" x2="1546.17" y2="19.0"/>
<line x1="1673.83" y1="587.2" x2="1673.83" y2="580.2"/><line x1="1673.83" y1="12.0" x2="1673.83" y2="19.0"/>
<line x1="1035.5" y1="94.17" x2="1042.5" y2="94.17"/><line x1="1801.5" y1="94.17" x2="1794.5" y2="94.17"/>
<line x1="1035.5" y1="176.34" x2="1042.5" y2="176.34"/><line x1="1801.5" y1="176.34" x2="1794.5" y2="176.34"/>
<line x1="1035.5" y1="258.51" x2="1042.5" y2="258.51"/><line x1="1801.5" y1="258.51" x2="1794.5" y2="258.51"/>
<line x1="1035.5" y1="340.69" x2="1042.5" y2="340.69"/><line x1="1801.5" y1="340.69" x2="1794.5" y2="340.69"/>
<line x1="1035.5" y1="422.86" x2="1042.5" y2="422.86"/><line x1="1801.5" y1="422.86" x2="1794.5" y2="422.86"/>
<line x1="1035.5" y1="505.03" x2="1042.5" y2="505.03"/><line x1="1801.5" y1="505.03" x2="1794.5" y2="505.03"/>
</g>
<g font-size="27" text-anchor="end">
<text x="1026.5" y="23.0">1581.5</text>
<text x="1026.5" y="105.2">1581</text>
<text x="1026.5" y="187.3">1580.5</text>
<text x="1026.5" y="269.5">1580</text>
<text x="1026.5" y="351.7">1579.5</text>
<text x="1026.5" y="433.9">1579</text>
<text x="1026.5" y="516.0">1578.5</text>
<text x="1026.5" y="598.2">1578</text>
</g>
<g font-size="27" text-anchor="middle">
<text x="1035.5" y="624.0">0</text>
<text x="1163.2" y="624.0">5</text>
<text x="1290.8" y="624.0">10</text>
<text x="1418.5" y="624.0">15</text>
<text x="1546.2" y="624.0">20</text>
<text x="1673.8" y="624.0">25</text>
<text x="1801.5" y="624.0">30</text>
</g>
<text x="1418.3" y="660.6" font-size="29.3" text-anchor="middle">Sugar Concentration (%)</text>
<text transform="translate(933.5,301.2) rotate(-90)" font-size="29.3" text-anchor="middle">Wavelength (nm)</text>
<text x="915" y="669.6" font-size="42" font-weight="bold">b)</text>
<text x="1052" y="55.6" font-size="27.2">y = 0.1018*x + 1578</text>
<text x="1051" y="89.8" font-size="27.2">R-square = 0.9882</text>
<path d="M1035.6,572.6 L1043.1,582.0 L1035.6,591.4 L1028.1,582.0 Z" fill="#000"/>
<path d="M1163.1,467.4 V519.0 M1156.6,467.4 H1169.6 M1156.6,519.0 H1169.6" stroke="#000" stroke-width="1.3" fill="none"/>
<path d="M1163.1,483.20000000000005 L1170.6,492.6 L1163.1,502.0 L1155.6,492.6 Z" fill="#000"/>
<path d="M1291.1,373.7 V433.4 M1284.6,373.7 H1297.6 M1284.6,433.4 H1297.6" stroke="#000" stroke-width="1.3" fill="none"/>
<path d="M1291.1,393.6 L1298.6,403.0 L1291.1,412.4 L1283.6,403.0 Z" fill="#000"/>
<path d="M1418.8,319.3 V370.6 M1412.3,319.3 H1425.3 M1412.3,370.6 H1425.3" stroke="#000" stroke-width="1.3" fill="none"/>
<path d="M1418.8,336.1 L1426.3,345.5 L1418.8,354.9 L1411.3,345.5 Z" fill="#000"/>
<path d="M1546.6,179.3 V248.9 M1540.1,179.3 H1553.1 M1540.1,248.9 H1553.1" stroke="#000" stroke-width="1.3" fill="none"/>
<path d="M1546.6,205.5 L1554.1,214.9 L1546.6,224.3 L1539.1,214.9 Z" fill="#000"/>
<path d="M1674.4,139.2 V209.7 M1667.9,139.2 H1680.9 M1667.9,209.7 H1680.9" stroke="#000" stroke-width="1.3" fill="none"/>
<path d="M1674.4,165.0 L1681.9,174.4 L1674.4,183.8 L1666.9,174.4 Z" fill="#000"/>
<line x1="1035.5" y1="577.3" x2="1801.5" y2="75.5" stroke="#ff0000" stroke-width="2.7" stroke-dasharray="8.1 7.99"/>
<rect x="1378.5" y="490.6" width="182.6" height="66.6" rx="1.5" fill="#fff" stroke="#2b2b2b" stroke-width="1.2"/>
<path d="M1398.1,498.2 L1406.0,507.8 L1398.1,517.4 L1390.1999999999998,507.8 Z" fill="#000"/>
<path d="M1382.2,539.6 H1390.3 M1398.3,539.6 H1406.6" stroke="#ff0000" stroke-width="2.8"/>
<text x="1415.6" y="517.9" font-size="24.3">Experimental</text>
<text x="1422.4" y="549.3" font-size="24.2">Linear Fit</text>
</g>
</svg>
</body></html>
